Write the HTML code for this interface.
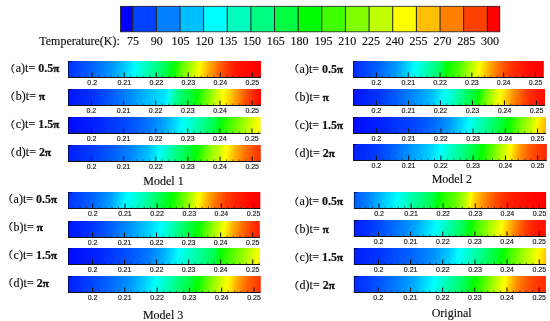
<!DOCTYPE html>
<html><head><meta charset="utf-8"><style>
html,body{margin:0;padding:0;background:#fff;}
body{width:550px;height:321px;overflow:hidden;}
svg{display:block;}
.ser{font-family:"Liberation Serif","Noto Serif CJK SC",serif;fill:#111;stroke:#111;stroke-width:0.15;}
.san{font-family:"Liberation Sans",sans-serif;fill:#1a1a1a;stroke:#1a1a1a;stroke-width:0.15;}
.cjk{font-family:"Noto Serif CJK SC","Liberation Serif",serif;fill:#111;stroke:#111;stroke-width:0.3;}
</style></head><body>
<svg width="550" height="321" viewBox="0 0 550 321">
<defs><linearGradient id="g1" gradientUnits="userSpaceOnUse" x1="48.0" y1="0" x2="281.0" y2="0" gradientTransform="translate(9.70,0) skewX(-8.0)"><stop offset="0.000" stop-color="#0032ff"/><stop offset="0.086" stop-color="#0032ff"/><stop offset="0.095" stop-color="#0036ff"/><stop offset="0.103" stop-color="#003aff"/><stop offset="0.112" stop-color="#003eff"/><stop offset="0.121" stop-color="#0042ff"/><stop offset="0.129" stop-color="#0046ff"/><stop offset="0.138" stop-color="#004aff"/><stop offset="0.147" stop-color="#004eff"/><stop offset="0.155" stop-color="#0052ff"/><stop offset="0.164" stop-color="#0056ff"/><stop offset="0.172" stop-color="#005aff"/><stop offset="0.181" stop-color="#005eff"/><stop offset="0.190" stop-color="#0062ff"/><stop offset="0.198" stop-color="#0067ff"/><stop offset="0.207" stop-color="#006dff"/><stop offset="0.216" stop-color="#0072ff"/><stop offset="0.224" stop-color="#0078ff"/><stop offset="0.233" stop-color="#007eff"/><stop offset="0.241" stop-color="#0083ff"/><stop offset="0.250" stop-color="#0089ff"/><stop offset="0.259" stop-color="#008eff"/><stop offset="0.267" stop-color="#0094ff"/><stop offset="0.276" stop-color="#009bff"/><stop offset="0.284" stop-color="#00a2ff"/><stop offset="0.293" stop-color="#00a9ff"/><stop offset="0.302" stop-color="#00b1ff"/><stop offset="0.310" stop-color="#00b8ff"/><stop offset="0.319" stop-color="#00c0ff"/><stop offset="0.328" stop-color="#00caff"/><stop offset="0.336" stop-color="#00d4ff"/><stop offset="0.345" stop-color="#00deff"/><stop offset="0.353" stop-color="#00e8ff"/><stop offset="0.362" stop-color="#00f2ff"/><stop offset="0.371" stop-color="#00feff"/><stop offset="0.379" stop-color="#00fff4"/><stop offset="0.388" stop-color="#00ffe8"/><stop offset="0.397" stop-color="#00ffdc"/><stop offset="0.405" stop-color="#00ffd0"/><stop offset="0.414" stop-color="#00ffc5"/><stop offset="0.422" stop-color="#00ffba"/><stop offset="0.431" stop-color="#00ffb0"/><stop offset="0.440" stop-color="#00ffa5"/><stop offset="0.448" stop-color="#00ff9a"/><stop offset="0.457" stop-color="#00ff90"/><stop offset="0.466" stop-color="#00ff85"/><stop offset="0.474" stop-color="#00ff7a"/><stop offset="0.483" stop-color="#00ff6e"/><stop offset="0.491" stop-color="#00ff63"/><stop offset="0.500" stop-color="#00ff56"/><stop offset="0.509" stop-color="#00ff44"/><stop offset="0.517" stop-color="#00ff33"/><stop offset="0.526" stop-color="#00ff22"/><stop offset="0.534" stop-color="#00ff0c"/><stop offset="0.543" stop-color="#0cff00"/><stop offset="0.552" stop-color="#24ff00"/><stop offset="0.560" stop-color="#3bff00"/><stop offset="0.569" stop-color="#53ff00"/><stop offset="0.578" stop-color="#69ff00"/><stop offset="0.586" stop-color="#79ff00"/><stop offset="0.595" stop-color="#8aff00"/><stop offset="0.603" stop-color="#9aff00"/><stop offset="0.612" stop-color="#aaff00"/><stop offset="0.621" stop-color="#bbff00"/><stop offset="0.629" stop-color="#ceff00"/><stop offset="0.638" stop-color="#e2ff00"/><stop offset="0.647" stop-color="#f6ff00"/><stop offset="0.655" stop-color="#fff300"/><stop offset="0.664" stop-color="#ffe100"/><stop offset="0.672" stop-color="#ffd000"/><stop offset="0.681" stop-color="#ffbe00"/><stop offset="0.690" stop-color="#ffad00"/><stop offset="0.698" stop-color="#ff9e00"/><stop offset="0.707" stop-color="#ff9000"/><stop offset="0.716" stop-color="#ff8200"/><stop offset="0.724" stop-color="#ff7400"/><stop offset="0.733" stop-color="#ff6600"/><stop offset="0.741" stop-color="#ff5a00"/><stop offset="0.750" stop-color="#ff4f00"/><stop offset="0.759" stop-color="#ff4400"/><stop offset="0.767" stop-color="#ff3900"/><stop offset="0.776" stop-color="#ff2f00"/><stop offset="0.784" stop-color="#ff2900"/><stop offset="0.793" stop-color="#ff2200"/><stop offset="0.802" stop-color="#ff1b00"/><stop offset="0.810" stop-color="#ff1500"/><stop offset="0.819" stop-color="#ff1200"/><stop offset="0.828" stop-color="#ff1000"/><stop offset="0.836" stop-color="#ff0e00"/><stop offset="0.845" stop-color="#ff0b00"/><stop offset="0.853" stop-color="#ff0900"/><stop offset="0.862" stop-color="#ff0700"/><stop offset="0.871" stop-color="#ff0500"/><stop offset="0.879" stop-color="#ff0200"/><stop offset="0.888" stop-color="#ff0000"/><stop offset="1.000" stop-color="#ff0000"/></linearGradient>
<linearGradient id="g2" gradientUnits="userSpaceOnUse" x1="48.0" y1="0" x2="281.0" y2="0" gradientTransform="translate(13.63,0) skewX(-8.0)"><stop offset="0.000" stop-color="#0014ff"/><stop offset="0.086" stop-color="#0014ff"/><stop offset="0.095" stop-color="#0017ff"/><stop offset="0.103" stop-color="#0019ff"/><stop offset="0.112" stop-color="#001bff"/><stop offset="0.121" stop-color="#001eff"/><stop offset="0.129" stop-color="#0020ff"/><stop offset="0.138" stop-color="#0023ff"/><stop offset="0.147" stop-color="#0025ff"/><stop offset="0.155" stop-color="#0027ff"/><stop offset="0.164" stop-color="#002aff"/><stop offset="0.172" stop-color="#002cff"/><stop offset="0.181" stop-color="#002fff"/><stop offset="0.190" stop-color="#0031ff"/><stop offset="0.198" stop-color="#0035ff"/><stop offset="0.207" stop-color="#0039ff"/><stop offset="0.216" stop-color="#003eff"/><stop offset="0.224" stop-color="#0042ff"/><stop offset="0.233" stop-color="#0047ff"/><stop offset="0.241" stop-color="#004bff"/><stop offset="0.250" stop-color="#004fff"/><stop offset="0.259" stop-color="#0054ff"/><stop offset="0.267" stop-color="#0058ff"/><stop offset="0.276" stop-color="#005dff"/><stop offset="0.284" stop-color="#0063ff"/><stop offset="0.293" stop-color="#0068ff"/><stop offset="0.302" stop-color="#006dff"/><stop offset="0.310" stop-color="#0073ff"/><stop offset="0.319" stop-color="#0078ff"/><stop offset="0.328" stop-color="#007dff"/><stop offset="0.336" stop-color="#0082ff"/><stop offset="0.345" stop-color="#0088ff"/><stop offset="0.353" stop-color="#008dff"/><stop offset="0.362" stop-color="#0093ff"/><stop offset="0.371" stop-color="#0098ff"/><stop offset="0.379" stop-color="#009eff"/><stop offset="0.388" stop-color="#00a3ff"/><stop offset="0.397" stop-color="#00a9ff"/><stop offset="0.405" stop-color="#00aeff"/><stop offset="0.414" stop-color="#00b4ff"/><stop offset="0.422" stop-color="#00baff"/><stop offset="0.431" stop-color="#00bfff"/><stop offset="0.440" stop-color="#00c3ff"/><stop offset="0.448" stop-color="#00c8ff"/><stop offset="0.457" stop-color="#00ccff"/><stop offset="0.466" stop-color="#00d1ff"/><stop offset="0.474" stop-color="#00d5ff"/><stop offset="0.483" stop-color="#00daff"/><stop offset="0.491" stop-color="#00deff"/><stop offset="0.500" stop-color="#00e3ff"/><stop offset="0.509" stop-color="#00edff"/><stop offset="0.517" stop-color="#00fff4"/><stop offset="0.526" stop-color="#00ffd7"/><stop offset="0.534" stop-color="#00ffbb"/><stop offset="0.543" stop-color="#00ffa6"/><stop offset="0.552" stop-color="#00ff94"/><stop offset="0.560" stop-color="#00ff83"/><stop offset="0.569" stop-color="#00ff71"/><stop offset="0.578" stop-color="#00ff61"/><stop offset="0.586" stop-color="#00ff56"/><stop offset="0.595" stop-color="#00ff4b"/><stop offset="0.603" stop-color="#00ff40"/><stop offset="0.612" stop-color="#00ff35"/><stop offset="0.621" stop-color="#00ff2a"/><stop offset="0.629" stop-color="#00ff16"/><stop offset="0.638" stop-color="#00ff00"/><stop offset="0.647" stop-color="#16ff00"/><stop offset="0.655" stop-color="#2cff00"/><stop offset="0.664" stop-color="#41ff00"/><stop offset="0.672" stop-color="#57ff00"/><stop offset="0.681" stop-color="#6bff00"/><stop offset="0.690" stop-color="#7fff00"/><stop offset="0.698" stop-color="#93ff00"/><stop offset="0.707" stop-color="#a7ff00"/><stop offset="0.716" stop-color="#bbff00"/><stop offset="0.724" stop-color="#cbff00"/><stop offset="0.733" stop-color="#dbff00"/><stop offset="0.741" stop-color="#eaff00"/><stop offset="0.750" stop-color="#faff00"/><stop offset="0.759" stop-color="#fff500"/><stop offset="0.767" stop-color="#ffe500"/><stop offset="0.776" stop-color="#ffd600"/><stop offset="0.784" stop-color="#ffc600"/><stop offset="0.793" stop-color="#ffb700"/><stop offset="0.802" stop-color="#ffa700"/><stop offset="0.810" stop-color="#ff9700"/><stop offset="0.819" stop-color="#ff8800"/><stop offset="0.828" stop-color="#ff7800"/><stop offset="0.836" stop-color="#ff6900"/><stop offset="0.845" stop-color="#ff5900"/><stop offset="0.853" stop-color="#ff4b00"/><stop offset="0.862" stop-color="#ff4000"/><stop offset="0.871" stop-color="#ff3500"/><stop offset="0.879" stop-color="#ff2a00"/><stop offset="0.888" stop-color="#ff1f00"/><stop offset="0.897" stop-color="#ff1600"/><stop offset="0.905" stop-color="#ff0d00"/><stop offset="0.914" stop-color="#ff0500"/><stop offset="0.922" stop-color="#ff0000"/><stop offset="1.000" stop-color="#ff0000"/></linearGradient>
<linearGradient id="g3" gradientUnits="userSpaceOnUse" x1="48.0" y1="0" x2="280.6" y2="0" gradientTransform="translate(17.57,0) skewX(-8.0)"><stop offset="0.000" stop-color="#000aff"/><stop offset="0.086" stop-color="#000aff"/><stop offset="0.095" stop-color="#000cff"/><stop offset="0.103" stop-color="#000dff"/><stop offset="0.112" stop-color="#000fff"/><stop offset="0.121" stop-color="#0010ff"/><stop offset="0.129" stop-color="#0012ff"/><stop offset="0.138" stop-color="#0014ff"/><stop offset="0.147" stop-color="#0015ff"/><stop offset="0.155" stop-color="#0017ff"/><stop offset="0.164" stop-color="#0018ff"/><stop offset="0.172" stop-color="#001aff"/><stop offset="0.181" stop-color="#001cff"/><stop offset="0.190" stop-color="#001dff"/><stop offset="0.198" stop-color="#0020ff"/><stop offset="0.207" stop-color="#0022ff"/><stop offset="0.216" stop-color="#0025ff"/><stop offset="0.224" stop-color="#0028ff"/><stop offset="0.233" stop-color="#002bff"/><stop offset="0.241" stop-color="#002dff"/><stop offset="0.250" stop-color="#0030ff"/><stop offset="0.259" stop-color="#0033ff"/><stop offset="0.267" stop-color="#0036ff"/><stop offset="0.276" stop-color="#0039ff"/><stop offset="0.284" stop-color="#003bff"/><stop offset="0.293" stop-color="#003eff"/><stop offset="0.302" stop-color="#0040ff"/><stop offset="0.310" stop-color="#0043ff"/><stop offset="0.319" stop-color="#0046ff"/><stop offset="0.328" stop-color="#0048ff"/><stop offset="0.336" stop-color="#004bff"/><stop offset="0.345" stop-color="#004eff"/><stop offset="0.353" stop-color="#0050ff"/><stop offset="0.362" stop-color="#0054ff"/><stop offset="0.371" stop-color="#0058ff"/><stop offset="0.379" stop-color="#005cff"/><stop offset="0.388" stop-color="#0060ff"/><stop offset="0.397" stop-color="#0064ff"/><stop offset="0.405" stop-color="#0068ff"/><stop offset="0.414" stop-color="#006cff"/><stop offset="0.422" stop-color="#0070ff"/><stop offset="0.431" stop-color="#0074ff"/><stop offset="0.440" stop-color="#007aff"/><stop offset="0.448" stop-color="#0080ff"/><stop offset="0.457" stop-color="#0087ff"/><stop offset="0.466" stop-color="#008dff"/><stop offset="0.474" stop-color="#0093ff"/><stop offset="0.483" stop-color="#0099ff"/><stop offset="0.491" stop-color="#00a0ff"/><stop offset="0.500" stop-color="#00a6ff"/><stop offset="0.509" stop-color="#00afff"/><stop offset="0.517" stop-color="#00b9ff"/><stop offset="0.526" stop-color="#00c2ff"/><stop offset="0.534" stop-color="#00cbff"/><stop offset="0.543" stop-color="#00d4ff"/><stop offset="0.552" stop-color="#00dfff"/><stop offset="0.560" stop-color="#00eaff"/><stop offset="0.569" stop-color="#00f6ff"/><stop offset="0.578" stop-color="#00fffd"/><stop offset="0.586" stop-color="#00fff2"/><stop offset="0.595" stop-color="#00ffe8"/><stop offset="0.603" stop-color="#00ffdd"/><stop offset="0.612" stop-color="#00ffd2"/><stop offset="0.621" stop-color="#00ffc8"/><stop offset="0.629" stop-color="#00ffbd"/><stop offset="0.638" stop-color="#00ffb3"/><stop offset="0.647" stop-color="#00ffa8"/><stop offset="0.655" stop-color="#00ff9b"/><stop offset="0.664" stop-color="#00ff8f"/><stop offset="0.672" stop-color="#00ff83"/><stop offset="0.681" stop-color="#00ff77"/><stop offset="0.690" stop-color="#00ff6a"/><stop offset="0.698" stop-color="#00ff5e"/><stop offset="0.707" stop-color="#00ff52"/><stop offset="0.716" stop-color="#00ff46"/><stop offset="0.724" stop-color="#00ff37"/><stop offset="0.733" stop-color="#00ff21"/><stop offset="0.741" stop-color="#00ff0a"/><stop offset="0.750" stop-color="#0dff00"/><stop offset="0.759" stop-color="#21ff00"/><stop offset="0.767" stop-color="#2eff00"/><stop offset="0.776" stop-color="#3aff00"/><stop offset="0.784" stop-color="#47ff00"/><stop offset="0.793" stop-color="#54ff00"/><stop offset="0.802" stop-color="#61ff00"/><stop offset="0.810" stop-color="#6eff00"/><stop offset="0.819" stop-color="#7cff00"/><stop offset="0.828" stop-color="#89ff00"/><stop offset="0.836" stop-color="#97ff00"/><stop offset="0.845" stop-color="#a5ff00"/><stop offset="0.853" stop-color="#b2ff00"/><stop offset="0.862" stop-color="#c0ff00"/><stop offset="0.871" stop-color="#cdff00"/><stop offset="0.879" stop-color="#dbff00"/><stop offset="0.888" stop-color="#e8ff00"/><stop offset="0.897" stop-color="#f5ff00"/><stop offset="0.905" stop-color="#fffc00"/><stop offset="0.914" stop-color="#ffef00"/><stop offset="0.922" stop-color="#ffe600"/><stop offset="1.000" stop-color="#ffe600"/></linearGradient>
<linearGradient id="g4" gradientUnits="userSpaceOnUse" x1="48.0" y1="0" x2="280.8" y2="0" gradientTransform="translate(21.50,0) skewX(-8.0)"><stop offset="0.000" stop-color="#001eff"/><stop offset="0.086" stop-color="#001eff"/><stop offset="0.095" stop-color="#0020ff"/><stop offset="0.103" stop-color="#0023ff"/><stop offset="0.112" stop-color="#0025ff"/><stop offset="0.121" stop-color="#0028ff"/><stop offset="0.129" stop-color="#002aff"/><stop offset="0.138" stop-color="#002dff"/><stop offset="0.147" stop-color="#002fff"/><stop offset="0.155" stop-color="#0031ff"/><stop offset="0.164" stop-color="#0034ff"/><stop offset="0.172" stop-color="#0036ff"/><stop offset="0.181" stop-color="#0039ff"/><stop offset="0.190" stop-color="#003bff"/><stop offset="0.198" stop-color="#003eff"/><stop offset="0.207" stop-color="#0041ff"/><stop offset="0.216" stop-color="#0045ff"/><stop offset="0.224" stop-color="#0048ff"/><stop offset="0.233" stop-color="#004bff"/><stop offset="0.241" stop-color="#004fff"/><stop offset="0.250" stop-color="#0052ff"/><stop offset="0.259" stop-color="#0055ff"/><stop offset="0.267" stop-color="#0059ff"/><stop offset="0.276" stop-color="#005dff"/><stop offset="0.284" stop-color="#0061ff"/><stop offset="0.293" stop-color="#0065ff"/><stop offset="0.302" stop-color="#0069ff"/><stop offset="0.310" stop-color="#006dff"/><stop offset="0.319" stop-color="#0072ff"/><stop offset="0.328" stop-color="#0076ff"/><stop offset="0.336" stop-color="#007aff"/><stop offset="0.345" stop-color="#007eff"/><stop offset="0.353" stop-color="#0083ff"/><stop offset="0.362" stop-color="#008aff"/><stop offset="0.371" stop-color="#0090ff"/><stop offset="0.379" stop-color="#0097ff"/><stop offset="0.388" stop-color="#009eff"/><stop offset="0.397" stop-color="#00a4ff"/><stop offset="0.405" stop-color="#00abff"/><stop offset="0.414" stop-color="#00b2ff"/><stop offset="0.422" stop-color="#00b8ff"/><stop offset="0.431" stop-color="#00c0ff"/><stop offset="0.440" stop-color="#00cbff"/><stop offset="0.448" stop-color="#00d6ff"/><stop offset="0.457" stop-color="#00e1ff"/><stop offset="0.466" stop-color="#00edff"/><stop offset="0.474" stop-color="#00fbff"/><stop offset="0.483" stop-color="#00fff4"/><stop offset="0.491" stop-color="#00ffe4"/><stop offset="0.500" stop-color="#00ffd4"/><stop offset="0.509" stop-color="#00ffc5"/><stop offset="0.517" stop-color="#00ffb8"/><stop offset="0.526" stop-color="#00ffab"/><stop offset="0.534" stop-color="#00ff9d"/><stop offset="0.543" stop-color="#00ff90"/><stop offset="0.552" stop-color="#00ff83"/><stop offset="0.560" stop-color="#00ff77"/><stop offset="0.569" stop-color="#00ff6b"/><stop offset="0.578" stop-color="#00ff5f"/><stop offset="0.586" stop-color="#00ff53"/><stop offset="0.595" stop-color="#00ff47"/><stop offset="0.603" stop-color="#00ff3b"/><stop offset="0.612" stop-color="#00ff2e"/><stop offset="0.621" stop-color="#00ff1c"/><stop offset="0.629" stop-color="#00ff09"/><stop offset="0.638" stop-color="#09ff00"/><stop offset="0.647" stop-color="#1bff00"/><stop offset="0.655" stop-color="#2dff00"/><stop offset="0.664" stop-color="#41ff00"/><stop offset="0.672" stop-color="#55ff00"/><stop offset="0.681" stop-color="#69ff00"/><stop offset="0.690" stop-color="#7eff00"/><stop offset="0.698" stop-color="#90ff00"/><stop offset="0.707" stop-color="#9dff00"/><stop offset="0.716" stop-color="#aaff00"/><stop offset="0.724" stop-color="#b8ff00"/><stop offset="0.733" stop-color="#c5ff00"/><stop offset="0.741" stop-color="#d4ff00"/><stop offset="0.750" stop-color="#e4ff00"/><stop offset="0.759" stop-color="#f4ff00"/><stop offset="0.767" stop-color="#fffb00"/><stop offset="0.776" stop-color="#ffeb00"/><stop offset="0.784" stop-color="#ffd900"/><stop offset="0.793" stop-color="#ffc800"/><stop offset="0.802" stop-color="#ffb700"/><stop offset="0.810" stop-color="#ffaa00"/><stop offset="0.819" stop-color="#ff9d00"/><stop offset="0.828" stop-color="#ff9000"/><stop offset="0.836" stop-color="#ff8300"/><stop offset="0.845" stop-color="#ff7600"/><stop offset="0.853" stop-color="#ff6b00"/><stop offset="0.862" stop-color="#ff6200"/><stop offset="0.871" stop-color="#ff5900"/><stop offset="0.879" stop-color="#ff5000"/><stop offset="0.888" stop-color="#ff4700"/><stop offset="0.897" stop-color="#ff4100"/><stop offset="0.905" stop-color="#ff3b00"/><stop offset="0.914" stop-color="#ff3600"/><stop offset="0.922" stop-color="#ff3200"/><stop offset="1.000" stop-color="#ff3200"/></linearGradient>
<linearGradient id="g5" gradientUnits="userSpaceOnUse" x1="333.0" y1="0" x2="563.8" y2="0" gradientTransform="translate(9.70,0) skewX(-8.0)"><stop offset="0.000" stop-color="#0028ff"/><stop offset="0.087" stop-color="#0028ff"/><stop offset="0.096" stop-color="#002dff"/><stop offset="0.104" stop-color="#0031ff"/><stop offset="0.113" stop-color="#0036ff"/><stop offset="0.122" stop-color="#003bff"/><stop offset="0.130" stop-color="#003fff"/><stop offset="0.139" stop-color="#0044ff"/><stop offset="0.148" stop-color="#0048ff"/><stop offset="0.157" stop-color="#004dff"/><stop offset="0.165" stop-color="#0052ff"/><stop offset="0.174" stop-color="#0056ff"/><stop offset="0.183" stop-color="#005bff"/><stop offset="0.191" stop-color="#005fff"/><stop offset="0.200" stop-color="#0066ff"/><stop offset="0.209" stop-color="#006cff"/><stop offset="0.217" stop-color="#0072ff"/><stop offset="0.226" stop-color="#0078ff"/><stop offset="0.235" stop-color="#007eff"/><stop offset="0.243" stop-color="#0084ff"/><stop offset="0.252" stop-color="#008aff"/><stop offset="0.261" stop-color="#0091ff"/><stop offset="0.270" stop-color="#0097ff"/><stop offset="0.278" stop-color="#00a1ff"/><stop offset="0.287" stop-color="#00abff"/><stop offset="0.296" stop-color="#00b5ff"/><stop offset="0.304" stop-color="#00bfff"/><stop offset="0.313" stop-color="#00c9ff"/><stop offset="0.322" stop-color="#00d5ff"/><stop offset="0.330" stop-color="#00e0ff"/><stop offset="0.339" stop-color="#00ecff"/><stop offset="0.348" stop-color="#00f8ff"/><stop offset="0.357" stop-color="#00fff9"/><stop offset="0.365" stop-color="#00ffed"/><stop offset="0.374" stop-color="#00ffe0"/><stop offset="0.383" stop-color="#00ffd4"/><stop offset="0.391" stop-color="#00ffc8"/><stop offset="0.400" stop-color="#00ffbc"/><stop offset="0.409" stop-color="#00ffb0"/><stop offset="0.417" stop-color="#00ffa4"/><stop offset="0.426" stop-color="#00ff97"/><stop offset="0.435" stop-color="#00ff8a"/><stop offset="0.443" stop-color="#00ff7d"/><stop offset="0.452" stop-color="#00ff70"/><stop offset="0.461" stop-color="#00ff63"/><stop offset="0.470" stop-color="#00ff4b"/><stop offset="0.478" stop-color="#00ff2e"/><stop offset="0.487" stop-color="#00ff12"/><stop offset="0.496" stop-color="#0bff00"/><stop offset="0.504" stop-color="#1aff00"/><stop offset="0.513" stop-color="#23ff00"/><stop offset="0.522" stop-color="#2cff00"/><stop offset="0.530" stop-color="#35ff00"/><stop offset="0.539" stop-color="#40ff00"/><stop offset="0.548" stop-color="#52ff00"/><stop offset="0.557" stop-color="#64ff00"/><stop offset="0.565" stop-color="#75ff00"/><stop offset="0.574" stop-color="#87ff00"/><stop offset="0.583" stop-color="#98ff00"/><stop offset="0.591" stop-color="#a8ff00"/><stop offset="0.600" stop-color="#b9ff00"/><stop offset="0.609" stop-color="#c9ff00"/><stop offset="0.617" stop-color="#daff00"/><stop offset="0.626" stop-color="#ebff00"/><stop offset="0.635" stop-color="#ffff00"/><stop offset="0.643" stop-color="#ffec00"/><stop offset="0.652" stop-color="#ffda00"/><stop offset="0.661" stop-color="#ffc900"/><stop offset="0.670" stop-color="#ffb800"/><stop offset="0.678" stop-color="#ffaa00"/><stop offset="0.687" stop-color="#ff9c00"/><stop offset="0.696" stop-color="#ff8f00"/><stop offset="0.704" stop-color="#ff8200"/><stop offset="0.713" stop-color="#ff7500"/><stop offset="0.722" stop-color="#ff6a00"/><stop offset="0.730" stop-color="#ff5f00"/><stop offset="0.739" stop-color="#ff5300"/><stop offset="0.748" stop-color="#ff4800"/><stop offset="0.757" stop-color="#ff4100"/><stop offset="0.765" stop-color="#ff3a00"/><stop offset="0.774" stop-color="#ff3300"/><stop offset="0.783" stop-color="#ff2d00"/><stop offset="0.791" stop-color="#ff2700"/><stop offset="0.800" stop-color="#ff2300"/><stop offset="0.809" stop-color="#ff1f00"/><stop offset="0.817" stop-color="#ff1b00"/><stop offset="0.826" stop-color="#ff1700"/><stop offset="0.835" stop-color="#ff1300"/><stop offset="0.843" stop-color="#ff0f00"/><stop offset="0.852" stop-color="#ff0b00"/><stop offset="0.861" stop-color="#ff0900"/><stop offset="0.870" stop-color="#ff0800"/><stop offset="0.878" stop-color="#ff0600"/><stop offset="0.887" stop-color="#ff0500"/><stop offset="0.896" stop-color="#ff0400"/><stop offset="0.904" stop-color="#ff0300"/><stop offset="0.913" stop-color="#ff0100"/><stop offset="0.922" stop-color="#ff0000"/><stop offset="1.000" stop-color="#ff0000"/></linearGradient>
<linearGradient id="g6" gradientUnits="userSpaceOnUse" x1="333.0" y1="0" x2="565.0" y2="0" gradientTransform="translate(13.63,0) skewX(-8.0)"><stop offset="0.000" stop-color="#0014ff"/><stop offset="0.086" stop-color="#0014ff"/><stop offset="0.095" stop-color="#0016ff"/><stop offset="0.103" stop-color="#0019ff"/><stop offset="0.112" stop-color="#001cff"/><stop offset="0.121" stop-color="#001eff"/><stop offset="0.129" stop-color="#0020ff"/><stop offset="0.138" stop-color="#0023ff"/><stop offset="0.147" stop-color="#0026ff"/><stop offset="0.155" stop-color="#0028ff"/><stop offset="0.164" stop-color="#002aff"/><stop offset="0.172" stop-color="#002dff"/><stop offset="0.181" stop-color="#0030ff"/><stop offset="0.190" stop-color="#0032ff"/><stop offset="0.198" stop-color="#0036ff"/><stop offset="0.207" stop-color="#003bff"/><stop offset="0.216" stop-color="#003fff"/><stop offset="0.224" stop-color="#0044ff"/><stop offset="0.233" stop-color="#0048ff"/><stop offset="0.241" stop-color="#004dff"/><stop offset="0.250" stop-color="#0051ff"/><stop offset="0.259" stop-color="#0056ff"/><stop offset="0.267" stop-color="#005aff"/><stop offset="0.276" stop-color="#005fff"/><stop offset="0.284" stop-color="#0065ff"/><stop offset="0.293" stop-color="#006aff"/><stop offset="0.302" stop-color="#006fff"/><stop offset="0.310" stop-color="#0074ff"/><stop offset="0.319" stop-color="#007aff"/><stop offset="0.328" stop-color="#007fff"/><stop offset="0.336" stop-color="#0084ff"/><stop offset="0.345" stop-color="#0089ff"/><stop offset="0.353" stop-color="#008fff"/><stop offset="0.362" stop-color="#0094ff"/><stop offset="0.371" stop-color="#009aff"/><stop offset="0.379" stop-color="#009fff"/><stop offset="0.388" stop-color="#00a5ff"/><stop offset="0.397" stop-color="#00abff"/><stop offset="0.405" stop-color="#00b0ff"/><stop offset="0.414" stop-color="#00b6ff"/><stop offset="0.422" stop-color="#00bbff"/><stop offset="0.431" stop-color="#00c4ff"/><stop offset="0.440" stop-color="#00cfff"/><stop offset="0.448" stop-color="#00daff"/><stop offset="0.457" stop-color="#00e5ff"/><stop offset="0.466" stop-color="#00f1ff"/><stop offset="0.474" stop-color="#00fcff"/><stop offset="0.483" stop-color="#00fff7"/><stop offset="0.491" stop-color="#00ffec"/><stop offset="0.500" stop-color="#00ffdf"/><stop offset="0.509" stop-color="#00ffd2"/><stop offset="0.517" stop-color="#00ffc5"/><stop offset="0.526" stop-color="#00ffb7"/><stop offset="0.534" stop-color="#00ffaa"/><stop offset="0.543" stop-color="#00ff9a"/><stop offset="0.552" stop-color="#00ff8b"/><stop offset="0.560" stop-color="#00ff7b"/><stop offset="0.569" stop-color="#00ff6c"/><stop offset="0.578" stop-color="#00ff5d"/><stop offset="0.586" stop-color="#00ff50"/><stop offset="0.595" stop-color="#00ff43"/><stop offset="0.603" stop-color="#00ff35"/><stop offset="0.612" stop-color="#00ff28"/><stop offset="0.621" stop-color="#00ff0b"/><stop offset="0.629" stop-color="#12ff00"/><stop offset="0.638" stop-color="#2fff00"/><stop offset="0.647" stop-color="#4cff00"/><stop offset="0.655" stop-color="#65ff00"/><stop offset="0.664" stop-color="#7bff00"/><stop offset="0.672" stop-color="#92ff00"/><stop offset="0.681" stop-color="#a8ff00"/><stop offset="0.690" stop-color="#beff00"/><stop offset="0.698" stop-color="#d0ff00"/><stop offset="0.707" stop-color="#e2ff00"/><stop offset="0.716" stop-color="#f3ff00"/><stop offset="0.724" stop-color="#fff900"/><stop offset="0.733" stop-color="#ffe800"/><stop offset="0.741" stop-color="#ffd700"/><stop offset="0.750" stop-color="#ffc600"/><stop offset="0.759" stop-color="#ffb500"/><stop offset="0.767" stop-color="#ffa400"/><stop offset="0.776" stop-color="#ff9300"/><stop offset="0.784" stop-color="#ff8200"/><stop offset="0.793" stop-color="#ff7500"/><stop offset="0.802" stop-color="#ff6900"/><stop offset="0.810" stop-color="#ff5c00"/><stop offset="0.819" stop-color="#ff4f00"/><stop offset="0.828" stop-color="#ff4200"/><stop offset="0.836" stop-color="#ff3900"/><stop offset="0.845" stop-color="#ff3200"/><stop offset="0.853" stop-color="#ff2b00"/><stop offset="0.862" stop-color="#ff2500"/><stop offset="0.871" stop-color="#ff1e00"/><stop offset="0.879" stop-color="#ff1a00"/><stop offset="0.888" stop-color="#ff1700"/><stop offset="0.897" stop-color="#ff1300"/><stop offset="0.905" stop-color="#ff0f00"/><stop offset="0.914" stop-color="#ff0c00"/><stop offset="0.922" stop-color="#ff0a00"/><stop offset="1.000" stop-color="#ff0a00"/></linearGradient>
<linearGradient id="g7" gradientUnits="userSpaceOnUse" x1="333.0" y1="0" x2="566.0" y2="0" gradientTransform="translate(17.57,0) skewX(-8.0)"><stop offset="0.000" stop-color="#000aff"/><stop offset="0.086" stop-color="#000aff"/><stop offset="0.095" stop-color="#000cff"/><stop offset="0.103" stop-color="#000dff"/><stop offset="0.112" stop-color="#000fff"/><stop offset="0.121" stop-color="#0011ff"/><stop offset="0.129" stop-color="#0012ff"/><stop offset="0.138" stop-color="#0014ff"/><stop offset="0.147" stop-color="#0016ff"/><stop offset="0.155" stop-color="#0017ff"/><stop offset="0.164" stop-color="#0019ff"/><stop offset="0.172" stop-color="#001bff"/><stop offset="0.181" stop-color="#001cff"/><stop offset="0.190" stop-color="#001eff"/><stop offset="0.198" stop-color="#0020ff"/><stop offset="0.207" stop-color="#0023ff"/><stop offset="0.216" stop-color="#0025ff"/><stop offset="0.224" stop-color="#0027ff"/><stop offset="0.233" stop-color="#0029ff"/><stop offset="0.241" stop-color="#002cff"/><stop offset="0.250" stop-color="#002eff"/><stop offset="0.259" stop-color="#0030ff"/><stop offset="0.267" stop-color="#0032ff"/><stop offset="0.276" stop-color="#0034ff"/><stop offset="0.284" stop-color="#0037ff"/><stop offset="0.293" stop-color="#0039ff"/><stop offset="0.302" stop-color="#003bff"/><stop offset="0.310" stop-color="#003dff"/><stop offset="0.319" stop-color="#003fff"/><stop offset="0.328" stop-color="#0041ff"/><stop offset="0.336" stop-color="#0043ff"/><stop offset="0.345" stop-color="#0045ff"/><stop offset="0.353" stop-color="#0048ff"/><stop offset="0.362" stop-color="#004cff"/><stop offset="0.371" stop-color="#004fff"/><stop offset="0.379" stop-color="#0052ff"/><stop offset="0.388" stop-color="#0056ff"/><stop offset="0.397" stop-color="#0059ff"/><stop offset="0.405" stop-color="#005cff"/><stop offset="0.414" stop-color="#0060ff"/><stop offset="0.422" stop-color="#0063ff"/><stop offset="0.431" stop-color="#0068ff"/><stop offset="0.440" stop-color="#006fff"/><stop offset="0.448" stop-color="#0075ff"/><stop offset="0.457" stop-color="#007bff"/><stop offset="0.466" stop-color="#0082ff"/><stop offset="0.474" stop-color="#0088ff"/><stop offset="0.483" stop-color="#008eff"/><stop offset="0.491" stop-color="#0094ff"/><stop offset="0.500" stop-color="#009dff"/><stop offset="0.509" stop-color="#00a6ff"/><stop offset="0.517" stop-color="#00afff"/><stop offset="0.526" stop-color="#00b7ff"/><stop offset="0.534" stop-color="#00c1ff"/><stop offset="0.543" stop-color="#00cbff"/><stop offset="0.552" stop-color="#00d5ff"/><stop offset="0.560" stop-color="#00dfff"/><stop offset="0.569" stop-color="#00e9ff"/><stop offset="0.578" stop-color="#00f6ff"/><stop offset="0.586" stop-color="#00fff9"/><stop offset="0.595" stop-color="#00ffeb"/><stop offset="0.603" stop-color="#00ffdc"/><stop offset="0.612" stop-color="#00ffcf"/><stop offset="0.621" stop-color="#00ffc3"/><stop offset="0.629" stop-color="#00ffb8"/><stop offset="0.638" stop-color="#00ffad"/><stop offset="0.647" stop-color="#00ffa2"/><stop offset="0.655" stop-color="#00ff96"/><stop offset="0.664" stop-color="#00ff89"/><stop offset="0.672" stop-color="#00ff7d"/><stop offset="0.681" stop-color="#00ff71"/><stop offset="0.690" stop-color="#00ff64"/><stop offset="0.698" stop-color="#00ff58"/><stop offset="0.707" stop-color="#00ff4b"/><stop offset="0.716" stop-color="#00ff3e"/><stop offset="0.724" stop-color="#00ff31"/><stop offset="0.733" stop-color="#00ff23"/><stop offset="0.741" stop-color="#00ff16"/><stop offset="0.750" stop-color="#00ff04"/><stop offset="0.759" stop-color="#0dff00"/><stop offset="0.767" stop-color="#1fff00"/><stop offset="0.776" stop-color="#31ff00"/><stop offset="0.784" stop-color="#43ff00"/><stop offset="0.793" stop-color="#55ff00"/><stop offset="0.802" stop-color="#67ff00"/><stop offset="0.810" stop-color="#79ff00"/><stop offset="0.819" stop-color="#8aff00"/><stop offset="0.828" stop-color="#9aff00"/><stop offset="0.836" stop-color="#aaff00"/><stop offset="0.845" stop-color="#b9ff00"/><stop offset="0.853" stop-color="#c9ff00"/><stop offset="0.862" stop-color="#dcff00"/><stop offset="0.871" stop-color="#f3ff00"/><stop offset="0.879" stop-color="#fff400"/><stop offset="0.888" stop-color="#ffdd00"/><stop offset="0.897" stop-color="#ffd100"/><stop offset="0.905" stop-color="#ffc600"/><stop offset="0.914" stop-color="#ffba00"/><stop offset="0.922" stop-color="#ffb400"/><stop offset="1.000" stop-color="#ffb400"/></linearGradient>
<linearGradient id="g8" gradientUnits="userSpaceOnUse" x1="333.0" y1="0" x2="566.8" y2="0" gradientTransform="translate(21.36,0) skewX(-8.0)"><stop offset="0.000" stop-color="#001eff"/><stop offset="0.086" stop-color="#001eff"/><stop offset="0.095" stop-color="#0021ff"/><stop offset="0.103" stop-color="#0023ff"/><stop offset="0.112" stop-color="#0026ff"/><stop offset="0.121" stop-color="#0028ff"/><stop offset="0.129" stop-color="#002bff"/><stop offset="0.138" stop-color="#002dff"/><stop offset="0.147" stop-color="#0030ff"/><stop offset="0.155" stop-color="#0032ff"/><stop offset="0.164" stop-color="#0035ff"/><stop offset="0.172" stop-color="#0037ff"/><stop offset="0.181" stop-color="#003aff"/><stop offset="0.190" stop-color="#003dff"/><stop offset="0.198" stop-color="#0042ff"/><stop offset="0.207" stop-color="#0047ff"/><stop offset="0.216" stop-color="#004cff"/><stop offset="0.224" stop-color="#0051ff"/><stop offset="0.233" stop-color="#0056ff"/><stop offset="0.241" stop-color="#005bff"/><stop offset="0.250" stop-color="#0060ff"/><stop offset="0.259" stop-color="#0065ff"/><stop offset="0.267" stop-color="#006aff"/><stop offset="0.276" stop-color="#0070ff"/><stop offset="0.284" stop-color="#0076ff"/><stop offset="0.293" stop-color="#007cff"/><stop offset="0.302" stop-color="#0082ff"/><stop offset="0.310" stop-color="#0088ff"/><stop offset="0.319" stop-color="#008dff"/><stop offset="0.328" stop-color="#0093ff"/><stop offset="0.336" stop-color="#0099ff"/><stop offset="0.345" stop-color="#009fff"/><stop offset="0.353" stop-color="#00a5ff"/><stop offset="0.362" stop-color="#00abff"/><stop offset="0.371" stop-color="#00b1ff"/><stop offset="0.379" stop-color="#00b7ff"/><stop offset="0.388" stop-color="#00beff"/><stop offset="0.397" stop-color="#00c4ff"/><stop offset="0.405" stop-color="#00caff"/><stop offset="0.414" stop-color="#00d0ff"/><stop offset="0.422" stop-color="#00d6ff"/><stop offset="0.431" stop-color="#00e0ff"/><stop offset="0.440" stop-color="#00eaff"/><stop offset="0.448" stop-color="#00f4ff"/><stop offset="0.457" stop-color="#00ffff"/><stop offset="0.466" stop-color="#00fff4"/><stop offset="0.474" stop-color="#00ffe9"/><stop offset="0.483" stop-color="#00ffde"/><stop offset="0.491" stop-color="#00ffd3"/><stop offset="0.500" stop-color="#00ffc7"/><stop offset="0.509" stop-color="#00ffbc"/><stop offset="0.517" stop-color="#00ffb1"/><stop offset="0.526" stop-color="#00ffa6"/><stop offset="0.534" stop-color="#00ff9b"/><stop offset="0.543" stop-color="#00ff8f"/><stop offset="0.552" stop-color="#00ff84"/><stop offset="0.560" stop-color="#00ff79"/><stop offset="0.569" stop-color="#00ff6e"/><stop offset="0.578" stop-color="#00ff63"/><stop offset="0.586" stop-color="#00ff57"/><stop offset="0.595" stop-color="#00ff4c"/><stop offset="0.603" stop-color="#00ff41"/><stop offset="0.612" stop-color="#00ff32"/><stop offset="0.621" stop-color="#00ff20"/><stop offset="0.629" stop-color="#00ff0e"/><stop offset="0.638" stop-color="#04ff00"/><stop offset="0.647" stop-color="#15ff00"/><stop offset="0.655" stop-color="#27ff00"/><stop offset="0.664" stop-color="#39ff00"/><stop offset="0.672" stop-color="#4bff00"/><stop offset="0.681" stop-color="#5dff00"/><stop offset="0.690" stop-color="#70ff00"/><stop offset="0.698" stop-color="#85ff00"/><stop offset="0.707" stop-color="#99ff00"/><stop offset="0.716" stop-color="#adff00"/><stop offset="0.724" stop-color="#c0ff00"/><stop offset="0.733" stop-color="#d0ff00"/><stop offset="0.741" stop-color="#e0ff00"/><stop offset="0.750" stop-color="#f0ff00"/><stop offset="0.759" stop-color="#fffa00"/><stop offset="0.767" stop-color="#ffe300"/><stop offset="0.776" stop-color="#ffce00"/><stop offset="0.784" stop-color="#ffba00"/><stop offset="0.793" stop-color="#ffa600"/><stop offset="0.802" stop-color="#ff9500"/><stop offset="0.810" stop-color="#ff8600"/><stop offset="0.819" stop-color="#ff7700"/><stop offset="0.828" stop-color="#ff6800"/><stop offset="0.836" stop-color="#ff5e00"/><stop offset="0.845" stop-color="#ff5600"/><stop offset="0.853" stop-color="#ff4e00"/><stop offset="0.862" stop-color="#ff4600"/><stop offset="0.871" stop-color="#ff3e00"/><stop offset="0.879" stop-color="#ff3900"/><stop offset="0.888" stop-color="#ff3500"/><stop offset="0.897" stop-color="#ff3100"/><stop offset="0.905" stop-color="#ff2d00"/><stop offset="0.914" stop-color="#ff2900"/><stop offset="0.922" stop-color="#ff2800"/><stop offset="1.000" stop-color="#ff2800"/></linearGradient>
<linearGradient id="g9" gradientUnits="userSpaceOnUse" x1="48.0" y1="0" x2="280.3" y2="0" gradientTransform="translate(28.11,0) skewX(-8.0)"><stop offset="0.000" stop-color="#0032ff"/><stop offset="0.086" stop-color="#0032ff"/><stop offset="0.095" stop-color="#0036ff"/><stop offset="0.103" stop-color="#003aff"/><stop offset="0.112" stop-color="#003eff"/><stop offset="0.121" stop-color="#0042ff"/><stop offset="0.129" stop-color="#0046ff"/><stop offset="0.138" stop-color="#004aff"/><stop offset="0.147" stop-color="#004eff"/><stop offset="0.155" stop-color="#0052ff"/><stop offset="0.164" stop-color="#0056ff"/><stop offset="0.172" stop-color="#005aff"/><stop offset="0.181" stop-color="#005eff"/><stop offset="0.190" stop-color="#0062ff"/><stop offset="0.198" stop-color="#0068ff"/><stop offset="0.207" stop-color="#006eff"/><stop offset="0.216" stop-color="#0075ff"/><stop offset="0.224" stop-color="#007cff"/><stop offset="0.233" stop-color="#0082ff"/><stop offset="0.241" stop-color="#0089ff"/><stop offset="0.250" stop-color="#0090ff"/><stop offset="0.259" stop-color="#0096ff"/><stop offset="0.267" stop-color="#009dff"/><stop offset="0.276" stop-color="#00a7ff"/><stop offset="0.284" stop-color="#00b3ff"/><stop offset="0.293" stop-color="#00bfff"/><stop offset="0.302" stop-color="#00cbff"/><stop offset="0.310" stop-color="#00d8ff"/><stop offset="0.319" stop-color="#00e3ff"/><stop offset="0.328" stop-color="#00efff"/><stop offset="0.336" stop-color="#00faff"/><stop offset="0.345" stop-color="#00fffb"/><stop offset="0.353" stop-color="#00fff2"/><stop offset="0.362" stop-color="#00ffe9"/><stop offset="0.371" stop-color="#00ffe0"/><stop offset="0.379" stop-color="#00ffd6"/><stop offset="0.388" stop-color="#00ffcc"/><stop offset="0.397" stop-color="#00ffc2"/><stop offset="0.405" stop-color="#00ffb8"/><stop offset="0.414" stop-color="#00ffae"/><stop offset="0.422" stop-color="#00ffa3"/><stop offset="0.431" stop-color="#00ff97"/><stop offset="0.440" stop-color="#00ff8b"/><stop offset="0.448" stop-color="#00ff7f"/><stop offset="0.457" stop-color="#00ff73"/><stop offset="0.466" stop-color="#00ff67"/><stop offset="0.474" stop-color="#00ff5a"/><stop offset="0.483" stop-color="#00ff4e"/><stop offset="0.491" stop-color="#00ff41"/><stop offset="0.500" stop-color="#00ff34"/><stop offset="0.509" stop-color="#00ff27"/><stop offset="0.517" stop-color="#00ff1a"/><stop offset="0.526" stop-color="#00ff0a"/><stop offset="0.534" stop-color="#07ff00"/><stop offset="0.543" stop-color="#18ff00"/><stop offset="0.552" stop-color="#29ff00"/><stop offset="0.560" stop-color="#3aff00"/><stop offset="0.569" stop-color="#4bff00"/><stop offset="0.578" stop-color="#5cff00"/><stop offset="0.586" stop-color="#70ff00"/><stop offset="0.595" stop-color="#84ff00"/><stop offset="0.603" stop-color="#98ff00"/><stop offset="0.612" stop-color="#acff00"/><stop offset="0.621" stop-color="#c0ff00"/><stop offset="0.629" stop-color="#d4ff00"/><stop offset="0.638" stop-color="#e8ff00"/><stop offset="0.647" stop-color="#fcff00"/><stop offset="0.655" stop-color="#ffee00"/><stop offset="0.664" stop-color="#ffdd00"/><stop offset="0.672" stop-color="#ffcc00"/><stop offset="0.681" stop-color="#ffbb00"/><stop offset="0.690" stop-color="#ffab00"/><stop offset="0.698" stop-color="#ff9c00"/><stop offset="0.707" stop-color="#ff8d00"/><stop offset="0.716" stop-color="#ff7e00"/><stop offset="0.724" stop-color="#ff7100"/><stop offset="0.733" stop-color="#ff6600"/><stop offset="0.741" stop-color="#ff5c00"/><stop offset="0.750" stop-color="#ff5100"/><stop offset="0.759" stop-color="#ff4600"/><stop offset="0.767" stop-color="#ff3b00"/><stop offset="0.776" stop-color="#ff3600"/><stop offset="0.784" stop-color="#ff3000"/><stop offset="0.793" stop-color="#ff2b00"/><stop offset="0.802" stop-color="#ff2600"/><stop offset="0.810" stop-color="#ff2000"/><stop offset="0.819" stop-color="#ff1c00"/><stop offset="0.828" stop-color="#ff1900"/><stop offset="0.836" stop-color="#ff1500"/><stop offset="0.845" stop-color="#ff1200"/><stop offset="0.853" stop-color="#ff0f00"/><stop offset="0.862" stop-color="#ff0b00"/><stop offset="0.871" stop-color="#ff0800"/><stop offset="0.879" stop-color="#ff0500"/><stop offset="0.888" stop-color="#ff0100"/><stop offset="0.897" stop-color="#ff0000"/><stop offset="1.000" stop-color="#ff0000"/></linearGradient>
<linearGradient id="g10" gradientUnits="userSpaceOnUse" x1="48.0" y1="0" x2="279.8" y2="0" gradientTransform="translate(32.18,0) skewX(-8.0)"><stop offset="0.000" stop-color="#0014ff"/><stop offset="0.087" stop-color="#0014ff"/><stop offset="0.096" stop-color="#0017ff"/><stop offset="0.104" stop-color="#001aff"/><stop offset="0.113" stop-color="#001dff"/><stop offset="0.122" stop-color="#0020ff"/><stop offset="0.130" stop-color="#0022ff"/><stop offset="0.139" stop-color="#0025ff"/><stop offset="0.148" stop-color="#0028ff"/><stop offset="0.157" stop-color="#002bff"/><stop offset="0.165" stop-color="#002eff"/><stop offset="0.174" stop-color="#0030ff"/><stop offset="0.183" stop-color="#0033ff"/><stop offset="0.191" stop-color="#0036ff"/><stop offset="0.200" stop-color="#003aff"/><stop offset="0.209" stop-color="#003fff"/><stop offset="0.217" stop-color="#0043ff"/><stop offset="0.226" stop-color="#0047ff"/><stop offset="0.235" stop-color="#004cff"/><stop offset="0.243" stop-color="#0050ff"/><stop offset="0.252" stop-color="#0055ff"/><stop offset="0.261" stop-color="#0059ff"/><stop offset="0.270" stop-color="#005eff"/><stop offset="0.278" stop-color="#0063ff"/><stop offset="0.287" stop-color="#0069ff"/><stop offset="0.296" stop-color="#006fff"/><stop offset="0.304" stop-color="#0075ff"/><stop offset="0.313" stop-color="#007bff"/><stop offset="0.322" stop-color="#0081ff"/><stop offset="0.330" stop-color="#0086ff"/><stop offset="0.339" stop-color="#008cff"/><stop offset="0.348" stop-color="#0092ff"/><stop offset="0.357" stop-color="#0098ff"/><stop offset="0.365" stop-color="#009eff"/><stop offset="0.374" stop-color="#00a4ff"/><stop offset="0.383" stop-color="#00aaff"/><stop offset="0.391" stop-color="#00b1ff"/><stop offset="0.400" stop-color="#00b7ff"/><stop offset="0.409" stop-color="#00bdff"/><stop offset="0.417" stop-color="#00c3ff"/><stop offset="0.426" stop-color="#00c9ff"/><stop offset="0.435" stop-color="#00d0ff"/><stop offset="0.443" stop-color="#00d8ff"/><stop offset="0.452" stop-color="#00e0ff"/><stop offset="0.461" stop-color="#00e8ff"/><stop offset="0.470" stop-color="#00efff"/><stop offset="0.478" stop-color="#00faff"/><stop offset="0.487" stop-color="#00fff8"/><stop offset="0.496" stop-color="#00ffed"/><stop offset="0.504" stop-color="#00ffe2"/><stop offset="0.513" stop-color="#00ffd5"/><stop offset="0.522" stop-color="#00ffc7"/><stop offset="0.530" stop-color="#00ffb9"/><stop offset="0.539" stop-color="#00ffaa"/><stop offset="0.548" stop-color="#00ff9d"/><stop offset="0.557" stop-color="#00ff8f"/><stop offset="0.565" stop-color="#00ff82"/><stop offset="0.574" stop-color="#00ff74"/><stop offset="0.583" stop-color="#00ff67"/><stop offset="0.591" stop-color="#00ff5a"/><stop offset="0.600" stop-color="#00ff4e"/><stop offset="0.609" stop-color="#00ff41"/><stop offset="0.617" stop-color="#00ff34"/><stop offset="0.626" stop-color="#00ff27"/><stop offset="0.635" stop-color="#00ff15"/><stop offset="0.643" stop-color="#00ff02"/><stop offset="0.652" stop-color="#10ff00"/><stop offset="0.661" stop-color="#22ff00"/><stop offset="0.670" stop-color="#35ff00"/><stop offset="0.678" stop-color="#48ff00"/><stop offset="0.687" stop-color="#5cff00"/><stop offset="0.696" stop-color="#71ff00"/><stop offset="0.704" stop-color="#85ff00"/><stop offset="0.713" stop-color="#99ff00"/><stop offset="0.722" stop-color="#adff00"/><stop offset="0.730" stop-color="#bfff00"/><stop offset="0.739" stop-color="#d1ff00"/><stop offset="0.748" stop-color="#e4ff00"/><stop offset="0.757" stop-color="#f6ff00"/><stop offset="0.765" stop-color="#fff600"/><stop offset="0.774" stop-color="#ffe200"/><stop offset="0.783" stop-color="#ffce00"/><stop offset="0.791" stop-color="#ffba00"/><stop offset="0.800" stop-color="#ffaa00"/><stop offset="0.809" stop-color="#ff9c00"/><stop offset="0.817" stop-color="#ff8e00"/><stop offset="0.826" stop-color="#ff8000"/><stop offset="0.835" stop-color="#ff7100"/><stop offset="0.843" stop-color="#ff6600"/><stop offset="0.852" stop-color="#ff5a00"/><stop offset="0.861" stop-color="#ff4f00"/><stop offset="0.870" stop-color="#ff4400"/><stop offset="0.878" stop-color="#ff3a00"/><stop offset="0.887" stop-color="#ff3300"/><stop offset="0.896" stop-color="#ff2b00"/><stop offset="0.904" stop-color="#ff2400"/><stop offset="0.913" stop-color="#ff1d00"/><stop offset="0.922" stop-color="#ff1500"/><stop offset="0.930" stop-color="#ff1400"/><stop offset="1.000" stop-color="#ff1400"/></linearGradient>
<linearGradient id="g11" gradientUnits="userSpaceOnUse" x1="48.0" y1="0" x2="280.0" y2="0" gradientTransform="translate(35.98,0) skewX(-8.0)"><stop offset="0.000" stop-color="#000aff"/><stop offset="0.086" stop-color="#000aff"/><stop offset="0.095" stop-color="#000cff"/><stop offset="0.103" stop-color="#000dff"/><stop offset="0.112" stop-color="#000fff"/><stop offset="0.121" stop-color="#0010ff"/><stop offset="0.129" stop-color="#0012ff"/><stop offset="0.138" stop-color="#0014ff"/><stop offset="0.147" stop-color="#0015ff"/><stop offset="0.155" stop-color="#0017ff"/><stop offset="0.164" stop-color="#0018ff"/><stop offset="0.172" stop-color="#001aff"/><stop offset="0.181" stop-color="#001cff"/><stop offset="0.190" stop-color="#001dff"/><stop offset="0.198" stop-color="#001fff"/><stop offset="0.207" stop-color="#0022ff"/><stop offset="0.216" stop-color="#0025ff"/><stop offset="0.224" stop-color="#0028ff"/><stop offset="0.233" stop-color="#002bff"/><stop offset="0.241" stop-color="#002dff"/><stop offset="0.250" stop-color="#0030ff"/><stop offset="0.259" stop-color="#0033ff"/><stop offset="0.267" stop-color="#0036ff"/><stop offset="0.276" stop-color="#0039ff"/><stop offset="0.284" stop-color="#003cff"/><stop offset="0.293" stop-color="#003fff"/><stop offset="0.302" stop-color="#0042ff"/><stop offset="0.310" stop-color="#0045ff"/><stop offset="0.319" stop-color="#0048ff"/><stop offset="0.328" stop-color="#004cff"/><stop offset="0.336" stop-color="#004fff"/><stop offset="0.345" stop-color="#0052ff"/><stop offset="0.353" stop-color="#0055ff"/><stop offset="0.362" stop-color="#0059ff"/><stop offset="0.371" stop-color="#005dff"/><stop offset="0.379" stop-color="#0061ff"/><stop offset="0.388" stop-color="#0065ff"/><stop offset="0.397" stop-color="#0068ff"/><stop offset="0.405" stop-color="#006cff"/><stop offset="0.414" stop-color="#0070ff"/><stop offset="0.422" stop-color="#0074ff"/><stop offset="0.431" stop-color="#0078ff"/><stop offset="0.440" stop-color="#007fff"/><stop offset="0.448" stop-color="#0086ff"/><stop offset="0.457" stop-color="#008dff"/><stop offset="0.466" stop-color="#0093ff"/><stop offset="0.474" stop-color="#009aff"/><stop offset="0.483" stop-color="#00a1ff"/><stop offset="0.491" stop-color="#00a8ff"/><stop offset="0.500" stop-color="#00afff"/><stop offset="0.509" stop-color="#00baff"/><stop offset="0.517" stop-color="#00c5ff"/><stop offset="0.526" stop-color="#00d0ff"/><stop offset="0.534" stop-color="#00dbff"/><stop offset="0.543" stop-color="#00e6ff"/><stop offset="0.552" stop-color="#00f2ff"/><stop offset="0.560" stop-color="#00fffe"/><stop offset="0.569" stop-color="#00fff0"/><stop offset="0.578" stop-color="#00ffe7"/><stop offset="0.586" stop-color="#00ffde"/><stop offset="0.595" stop-color="#00ffd5"/><stop offset="0.603" stop-color="#00ffcc"/><stop offset="0.612" stop-color="#00ffc4"/><stop offset="0.621" stop-color="#00ffbb"/><stop offset="0.629" stop-color="#00ffb2"/><stop offset="0.638" stop-color="#00ffa9"/><stop offset="0.647" stop-color="#00ffa0"/><stop offset="0.655" stop-color="#00ff96"/><stop offset="0.664" stop-color="#00ff8c"/><stop offset="0.672" stop-color="#00ff82"/><stop offset="0.681" stop-color="#00ff78"/><stop offset="0.690" stop-color="#00ff6e"/><stop offset="0.698" stop-color="#00ff64"/><stop offset="0.707" stop-color="#00ff5a"/><stop offset="0.716" stop-color="#00ff50"/><stop offset="0.724" stop-color="#00ff37"/><stop offset="0.733" stop-color="#00ff1e"/><stop offset="0.741" stop-color="#00ff05"/><stop offset="0.750" stop-color="#14ff00"/><stop offset="0.759" stop-color="#20ff00"/><stop offset="0.767" stop-color="#2dff00"/><stop offset="0.776" stop-color="#39ff00"/><stop offset="0.784" stop-color="#45ff00"/><stop offset="0.793" stop-color="#52ff00"/><stop offset="0.802" stop-color="#5eff00"/><stop offset="0.810" stop-color="#6aff00"/><stop offset="0.819" stop-color="#77ff00"/><stop offset="0.828" stop-color="#84ff00"/><stop offset="0.836" stop-color="#91ff00"/><stop offset="0.845" stop-color="#9dff00"/><stop offset="0.853" stop-color="#aaff00"/><stop offset="0.862" stop-color="#b7ff00"/><stop offset="0.871" stop-color="#c5ff00"/><stop offset="0.879" stop-color="#d2ff00"/><stop offset="0.888" stop-color="#dfff00"/><stop offset="0.897" stop-color="#ecff00"/><stop offset="0.905" stop-color="#f9ff00"/><stop offset="0.914" stop-color="#fff800"/><stop offset="0.922" stop-color="#ffeb00"/><stop offset="1.000" stop-color="#ffeb00"/></linearGradient>
<linearGradient id="g12" gradientUnits="userSpaceOnUse" x1="48.0" y1="0" x2="280.8" y2="0" gradientTransform="translate(39.91,0) skewX(-8.0)"><stop offset="0.000" stop-color="#001eff"/><stop offset="0.086" stop-color="#001eff"/><stop offset="0.095" stop-color="#0021ff"/><stop offset="0.103" stop-color="#0025ff"/><stop offset="0.112" stop-color="#0028ff"/><stop offset="0.121" stop-color="#002bff"/><stop offset="0.129" stop-color="#002eff"/><stop offset="0.138" stop-color="#0031ff"/><stop offset="0.147" stop-color="#0035ff"/><stop offset="0.155" stop-color="#0038ff"/><stop offset="0.164" stop-color="#003bff"/><stop offset="0.172" stop-color="#003eff"/><stop offset="0.181" stop-color="#0041ff"/><stop offset="0.190" stop-color="#0045ff"/><stop offset="0.198" stop-color="#0048ff"/><stop offset="0.207" stop-color="#004cff"/><stop offset="0.216" stop-color="#0050ff"/><stop offset="0.224" stop-color="#0054ff"/><stop offset="0.233" stop-color="#0058ff"/><stop offset="0.241" stop-color="#005cff"/><stop offset="0.250" stop-color="#0060ff"/><stop offset="0.259" stop-color="#0064ff"/><stop offset="0.267" stop-color="#0067ff"/><stop offset="0.276" stop-color="#006cff"/><stop offset="0.284" stop-color="#0071ff"/><stop offset="0.293" stop-color="#0075ff"/><stop offset="0.302" stop-color="#007aff"/><stop offset="0.310" stop-color="#007fff"/><stop offset="0.319" stop-color="#0084ff"/><stop offset="0.328" stop-color="#0088ff"/><stop offset="0.336" stop-color="#008dff"/><stop offset="0.345" stop-color="#0092ff"/><stop offset="0.353" stop-color="#0097ff"/><stop offset="0.362" stop-color="#009fff"/><stop offset="0.371" stop-color="#00a7ff"/><stop offset="0.379" stop-color="#00afff"/><stop offset="0.388" stop-color="#00b6ff"/><stop offset="0.397" stop-color="#00beff"/><stop offset="0.405" stop-color="#00c6ff"/><stop offset="0.414" stop-color="#00ceff"/><stop offset="0.422" stop-color="#00d6ff"/><stop offset="0.431" stop-color="#00deff"/><stop offset="0.440" stop-color="#00e8ff"/><stop offset="0.448" stop-color="#00f2ff"/><stop offset="0.457" stop-color="#00fcff"/><stop offset="0.466" stop-color="#00fff7"/><stop offset="0.474" stop-color="#00ffec"/><stop offset="0.483" stop-color="#00ffe1"/><stop offset="0.491" stop-color="#00ffd5"/><stop offset="0.500" stop-color="#00ffca"/><stop offset="0.509" stop-color="#00ffbe"/><stop offset="0.517" stop-color="#00ffb2"/><stop offset="0.526" stop-color="#00ffa7"/><stop offset="0.534" stop-color="#00ff9b"/><stop offset="0.543" stop-color="#00ff8f"/><stop offset="0.552" stop-color="#00ff84"/><stop offset="0.560" stop-color="#00ff7a"/><stop offset="0.569" stop-color="#00ff6f"/><stop offset="0.578" stop-color="#00ff64"/><stop offset="0.586" stop-color="#00ff59"/><stop offset="0.595" stop-color="#00ff4f"/><stop offset="0.603" stop-color="#00ff44"/><stop offset="0.612" stop-color="#00ff38"/><stop offset="0.621" stop-color="#00ff26"/><stop offset="0.629" stop-color="#00ff13"/><stop offset="0.638" stop-color="#00ff01"/><stop offset="0.647" stop-color="#11ff00"/><stop offset="0.655" stop-color="#23ff00"/><stop offset="0.664" stop-color="#35ff00"/><stop offset="0.672" stop-color="#47ff00"/><stop offset="0.681" stop-color="#59ff00"/><stop offset="0.690" stop-color="#6cff00"/><stop offset="0.698" stop-color="#7eff00"/><stop offset="0.707" stop-color="#8fff00"/><stop offset="0.716" stop-color="#9fff00"/><stop offset="0.724" stop-color="#afff00"/><stop offset="0.733" stop-color="#bfff00"/><stop offset="0.741" stop-color="#cfff00"/><stop offset="0.750" stop-color="#deff00"/><stop offset="0.759" stop-color="#ecff00"/><stop offset="0.767" stop-color="#fbff00"/><stop offset="0.776" stop-color="#fff500"/><stop offset="0.784" stop-color="#ffe500"/><stop offset="0.793" stop-color="#ffd300"/><stop offset="0.802" stop-color="#ffc000"/><stop offset="0.810" stop-color="#ffad00"/><stop offset="0.819" stop-color="#ff9e00"/><stop offset="0.828" stop-color="#ff9000"/><stop offset="0.836" stop-color="#ff8200"/><stop offset="0.845" stop-color="#ff7400"/><stop offset="0.853" stop-color="#ff6600"/><stop offset="0.862" stop-color="#ff5e00"/><stop offset="0.871" stop-color="#ff5600"/><stop offset="0.879" stop-color="#ff4f00"/><stop offset="0.888" stop-color="#ff4700"/><stop offset="0.897" stop-color="#ff4100"/><stop offset="0.905" stop-color="#ff3b00"/><stop offset="0.914" stop-color="#ff3600"/><stop offset="0.922" stop-color="#ff3200"/><stop offset="1.000" stop-color="#ff3200"/></linearGradient>
<linearGradient id="g13" gradientUnits="userSpaceOnUse" x1="333.9" y1="0" x2="566.1" y2="0" gradientTransform="translate(28.11,0) skewX(-8.0)"><stop offset="0.000" stop-color="#005aff"/><stop offset="0.086" stop-color="#005aff"/><stop offset="0.095" stop-color="#005fff"/><stop offset="0.103" stop-color="#0065ff"/><stop offset="0.112" stop-color="#006bff"/><stop offset="0.121" stop-color="#0071ff"/><stop offset="0.129" stop-color="#0076ff"/><stop offset="0.138" stop-color="#007cff"/><stop offset="0.147" stop-color="#0082ff"/><stop offset="0.155" stop-color="#008bff"/><stop offset="0.164" stop-color="#0093ff"/><stop offset="0.172" stop-color="#009cff"/><stop offset="0.181" stop-color="#00a5ff"/><stop offset="0.190" stop-color="#00aeff"/><stop offset="0.198" stop-color="#00b7ff"/><stop offset="0.207" stop-color="#00c0ff"/><stop offset="0.216" stop-color="#00c9ff"/><stop offset="0.224" stop-color="#00d2ff"/><stop offset="0.233" stop-color="#00daff"/><stop offset="0.241" stop-color="#00e1ff"/><stop offset="0.250" stop-color="#00e9ff"/><stop offset="0.259" stop-color="#00f1ff"/><stop offset="0.267" stop-color="#00fbff"/><stop offset="0.276" stop-color="#00fff7"/><stop offset="0.284" stop-color="#00ffeb"/><stop offset="0.293" stop-color="#00ffde"/><stop offset="0.302" stop-color="#00ffd2"/><stop offset="0.310" stop-color="#00ffc8"/><stop offset="0.319" stop-color="#00ffbe"/><stop offset="0.328" stop-color="#00ffb4"/><stop offset="0.336" stop-color="#00ffaa"/><stop offset="0.345" stop-color="#00ffa0"/><stop offset="0.353" stop-color="#00ff97"/><stop offset="0.362" stop-color="#00ff8e"/><stop offset="0.371" stop-color="#00ff85"/><stop offset="0.379" stop-color="#00ff7d"/><stop offset="0.388" stop-color="#00ff73"/><stop offset="0.397" stop-color="#00ff67"/><stop offset="0.405" stop-color="#00ff5c"/><stop offset="0.414" stop-color="#00ff51"/><stop offset="0.422" stop-color="#00ff46"/><stop offset="0.431" stop-color="#00ff32"/><stop offset="0.440" stop-color="#00ff1e"/><stop offset="0.448" stop-color="#00ff0a"/><stop offset="0.457" stop-color="#0aff00"/><stop offset="0.466" stop-color="#1aff00"/><stop offset="0.474" stop-color="#25ff00"/><stop offset="0.483" stop-color="#31ff00"/><stop offset="0.491" stop-color="#3cff00"/><stop offset="0.500" stop-color="#47ff00"/><stop offset="0.509" stop-color="#52ff00"/><stop offset="0.517" stop-color="#5dff00"/><stop offset="0.526" stop-color="#68ff00"/><stop offset="0.534" stop-color="#77ff00"/><stop offset="0.543" stop-color="#89ff00"/><stop offset="0.552" stop-color="#9bff00"/><stop offset="0.560" stop-color="#acff00"/><stop offset="0.569" stop-color="#beff00"/><stop offset="0.578" stop-color="#deff00"/><stop offset="0.586" stop-color="#feff00"/><stop offset="0.595" stop-color="#ffe800"/><stop offset="0.603" stop-color="#ffd700"/><stop offset="0.612" stop-color="#ffc600"/><stop offset="0.621" stop-color="#ffb700"/><stop offset="0.629" stop-color="#ffa800"/><stop offset="0.638" stop-color="#ff9a00"/><stop offset="0.647" stop-color="#ff8c00"/><stop offset="0.655" stop-color="#ff8100"/><stop offset="0.664" stop-color="#ff7600"/><stop offset="0.672" stop-color="#ff6a00"/><stop offset="0.681" stop-color="#ff5f00"/><stop offset="0.690" stop-color="#ff5500"/><stop offset="0.698" stop-color="#ff4c00"/><stop offset="0.707" stop-color="#ff4400"/><stop offset="0.716" stop-color="#ff3b00"/><stop offset="0.724" stop-color="#ff3200"/><stop offset="0.733" stop-color="#ff2d00"/><stop offset="0.741" stop-color="#ff2900"/><stop offset="0.750" stop-color="#ff2500"/><stop offset="0.759" stop-color="#ff2000"/><stop offset="0.767" stop-color="#ff1d00"/><stop offset="0.776" stop-color="#ff1b00"/><stop offset="0.784" stop-color="#ff1900"/><stop offset="0.793" stop-color="#ff1700"/><stop offset="0.802" stop-color="#ff1400"/><stop offset="0.810" stop-color="#ff1200"/><stop offset="0.819" stop-color="#ff1000"/><stop offset="0.828" stop-color="#ff0e00"/><stop offset="0.836" stop-color="#ff0c00"/><stop offset="0.845" stop-color="#ff0a00"/><stop offset="0.853" stop-color="#ff0900"/><stop offset="0.862" stop-color="#ff0800"/><stop offset="0.871" stop-color="#ff0600"/><stop offset="0.879" stop-color="#ff0500"/><stop offset="0.888" stop-color="#ff0400"/><stop offset="0.897" stop-color="#ff0300"/><stop offset="0.905" stop-color="#ff0200"/><stop offset="0.914" stop-color="#ff0100"/><stop offset="0.922" stop-color="#ff0000"/><stop offset="1.000" stop-color="#ff0000"/></linearGradient>
<linearGradient id="g14" gradientUnits="userSpaceOnUse" x1="333.9" y1="0" x2="565.9" y2="0" gradientTransform="translate(32.04,0) skewX(-8.0)"><stop offset="0.000" stop-color="#001eff"/><stop offset="0.086" stop-color="#001eff"/><stop offset="0.095" stop-color="#0021ff"/><stop offset="0.103" stop-color="#0024ff"/><stop offset="0.112" stop-color="#0026ff"/><stop offset="0.121" stop-color="#0029ff"/><stop offset="0.129" stop-color="#002cff"/><stop offset="0.138" stop-color="#002fff"/><stop offset="0.147" stop-color="#0032ff"/><stop offset="0.155" stop-color="#0036ff"/><stop offset="0.164" stop-color="#003bff"/><stop offset="0.172" stop-color="#003fff"/><stop offset="0.181" stop-color="#0044ff"/><stop offset="0.190" stop-color="#0048ff"/><stop offset="0.198" stop-color="#004cff"/><stop offset="0.207" stop-color="#0051ff"/><stop offset="0.216" stop-color="#0055ff"/><stop offset="0.224" stop-color="#005aff"/><stop offset="0.233" stop-color="#005eff"/><stop offset="0.241" stop-color="#0063ff"/><stop offset="0.250" stop-color="#0067ff"/><stop offset="0.259" stop-color="#006cff"/><stop offset="0.267" stop-color="#0070ff"/><stop offset="0.276" stop-color="#0076ff"/><stop offset="0.284" stop-color="#007bff"/><stop offset="0.293" stop-color="#0080ff"/><stop offset="0.302" stop-color="#0085ff"/><stop offset="0.310" stop-color="#008bff"/><stop offset="0.319" stop-color="#0090ff"/><stop offset="0.328" stop-color="#0095ff"/><stop offset="0.336" stop-color="#009aff"/><stop offset="0.345" stop-color="#00a0ff"/><stop offset="0.353" stop-color="#00a8ff"/><stop offset="0.362" stop-color="#00b1ff"/><stop offset="0.371" stop-color="#00baff"/><stop offset="0.379" stop-color="#00c3ff"/><stop offset="0.388" stop-color="#00cbff"/><stop offset="0.397" stop-color="#00d3ff"/><stop offset="0.405" stop-color="#00dbff"/><stop offset="0.414" stop-color="#00e3ff"/><stop offset="0.422" stop-color="#00ebff"/><stop offset="0.431" stop-color="#00f7ff"/><stop offset="0.440" stop-color="#00fffb"/><stop offset="0.448" stop-color="#00ffef"/><stop offset="0.457" stop-color="#00ffe3"/><stop offset="0.466" stop-color="#00ffd6"/><stop offset="0.474" stop-color="#00ffc9"/><stop offset="0.483" stop-color="#00ffbd"/><stop offset="0.491" stop-color="#00ffb0"/><stop offset="0.500" stop-color="#00ffa3"/><stop offset="0.509" stop-color="#00ff97"/><stop offset="0.517" stop-color="#00ff8b"/><stop offset="0.526" stop-color="#00ff7f"/><stop offset="0.534" stop-color="#00ff71"/><stop offset="0.543" stop-color="#00ff61"/><stop offset="0.552" stop-color="#00ff52"/><stop offset="0.560" stop-color="#00ff42"/><stop offset="0.569" stop-color="#00ff33"/><stop offset="0.578" stop-color="#00ff1d"/><stop offset="0.586" stop-color="#00ff07"/><stop offset="0.595" stop-color="#10ff00"/><stop offset="0.603" stop-color="#26ff00"/><stop offset="0.612" stop-color="#39ff00"/><stop offset="0.621" stop-color="#49ff00"/><stop offset="0.629" stop-color="#58ff00"/><stop offset="0.638" stop-color="#68ff00"/><stop offset="0.647" stop-color="#77ff00"/><stop offset="0.655" stop-color="#87ff00"/><stop offset="0.664" stop-color="#96ff00"/><stop offset="0.672" stop-color="#a6ff00"/><stop offset="0.681" stop-color="#b5ff00"/><stop offset="0.690" stop-color="#c4ff00"/><stop offset="0.698" stop-color="#d3ff00"/><stop offset="0.707" stop-color="#e1ff00"/><stop offset="0.716" stop-color="#efff00"/><stop offset="0.724" stop-color="#fffb00"/><stop offset="0.733" stop-color="#ffe700"/><stop offset="0.741" stop-color="#ffd500"/><stop offset="0.750" stop-color="#ffc400"/><stop offset="0.759" stop-color="#ffb300"/><stop offset="0.767" stop-color="#ffa200"/><stop offset="0.776" stop-color="#ff9100"/><stop offset="0.784" stop-color="#ff8000"/><stop offset="0.793" stop-color="#ff6f00"/><stop offset="0.802" stop-color="#ff6200"/><stop offset="0.810" stop-color="#ff5600"/><stop offset="0.819" stop-color="#ff4900"/><stop offset="0.828" stop-color="#ff3d00"/><stop offset="0.836" stop-color="#ff3600"/><stop offset="0.845" stop-color="#ff2f00"/><stop offset="0.853" stop-color="#ff2800"/><stop offset="0.862" stop-color="#ff2200"/><stop offset="0.871" stop-color="#ff1d00"/><stop offset="0.879" stop-color="#ff1900"/><stop offset="0.888" stop-color="#ff1600"/><stop offset="0.897" stop-color="#ff1300"/><stop offset="0.905" stop-color="#ff0f00"/><stop offset="0.914" stop-color="#ff0c00"/><stop offset="0.922" stop-color="#ff0a00"/><stop offset="1.000" stop-color="#ff0a00"/></linearGradient>
<linearGradient id="g15" gradientUnits="userSpaceOnUse" x1="333.9" y1="0" x2="566.1" y2="0" gradientTransform="translate(35.98,0) skewX(-8.0)"><stop offset="0.000" stop-color="#001eff"/><stop offset="0.086" stop-color="#001eff"/><stop offset="0.095" stop-color="#0020ff"/><stop offset="0.103" stop-color="#0021ff"/><stop offset="0.112" stop-color="#0023ff"/><stop offset="0.121" stop-color="#0025ff"/><stop offset="0.129" stop-color="#0027ff"/><stop offset="0.138" stop-color="#0028ff"/><stop offset="0.147" stop-color="#002aff"/><stop offset="0.155" stop-color="#002cff"/><stop offset="0.164" stop-color="#002eff"/><stop offset="0.172" stop-color="#002fff"/><stop offset="0.181" stop-color="#0031ff"/><stop offset="0.190" stop-color="#0033ff"/><stop offset="0.198" stop-color="#0036ff"/><stop offset="0.207" stop-color="#0039ff"/><stop offset="0.216" stop-color="#003cff"/><stop offset="0.224" stop-color="#003eff"/><stop offset="0.233" stop-color="#0041ff"/><stop offset="0.241" stop-color="#0044ff"/><stop offset="0.250" stop-color="#0047ff"/><stop offset="0.259" stop-color="#004aff"/><stop offset="0.267" stop-color="#004dff"/><stop offset="0.276" stop-color="#0050ff"/><stop offset="0.284" stop-color="#0053ff"/><stop offset="0.293" stop-color="#0056ff"/><stop offset="0.302" stop-color="#0059ff"/><stop offset="0.310" stop-color="#005cff"/><stop offset="0.319" stop-color="#005fff"/><stop offset="0.328" stop-color="#0063ff"/><stop offset="0.336" stop-color="#0066ff"/><stop offset="0.345" stop-color="#0069ff"/><stop offset="0.353" stop-color="#006dff"/><stop offset="0.362" stop-color="#0071ff"/><stop offset="0.371" stop-color="#0075ff"/><stop offset="0.379" stop-color="#0079ff"/><stop offset="0.388" stop-color="#007cff"/><stop offset="0.397" stop-color="#0080ff"/><stop offset="0.405" stop-color="#0084ff"/><stop offset="0.414" stop-color="#0088ff"/><stop offset="0.422" stop-color="#008cff"/><stop offset="0.431" stop-color="#0093ff"/><stop offset="0.440" stop-color="#009bff"/><stop offset="0.448" stop-color="#00a2ff"/><stop offset="0.457" stop-color="#00aaff"/><stop offset="0.466" stop-color="#00b1ff"/><stop offset="0.474" stop-color="#00b9ff"/><stop offset="0.483" stop-color="#00c0ff"/><stop offset="0.491" stop-color="#00c8ff"/><stop offset="0.500" stop-color="#00d2ff"/><stop offset="0.509" stop-color="#00dcff"/><stop offset="0.517" stop-color="#00e6ff"/><stop offset="0.526" stop-color="#00f0ff"/><stop offset="0.534" stop-color="#00fbff"/><stop offset="0.543" stop-color="#00fff8"/><stop offset="0.552" stop-color="#00ffed"/><stop offset="0.560" stop-color="#00ffe2"/><stop offset="0.569" stop-color="#00ffd7"/><stop offset="0.578" stop-color="#00ffcd"/><stop offset="0.586" stop-color="#00ffc3"/><stop offset="0.595" stop-color="#00ffb9"/><stop offset="0.603" stop-color="#00ffaf"/><stop offset="0.612" stop-color="#00ffa4"/><stop offset="0.621" stop-color="#00ff99"/><stop offset="0.629" stop-color="#00ff8e"/><stop offset="0.638" stop-color="#00ff83"/><stop offset="0.647" stop-color="#00ff78"/><stop offset="0.655" stop-color="#00ff6c"/><stop offset="0.664" stop-color="#00ff61"/><stop offset="0.672" stop-color="#00ff55"/><stop offset="0.681" stop-color="#00ff4a"/><stop offset="0.690" stop-color="#00ff3e"/><stop offset="0.698" stop-color="#00ff33"/><stop offset="0.707" stop-color="#00ff24"/><stop offset="0.716" stop-color="#00ff14"/><stop offset="0.724" stop-color="#00ff03"/><stop offset="0.733" stop-color="#0eff00"/><stop offset="0.741" stop-color="#1eff00"/><stop offset="0.750" stop-color="#2eff00"/><stop offset="0.759" stop-color="#3eff00"/><stop offset="0.767" stop-color="#4dff00"/><stop offset="0.776" stop-color="#5dff00"/><stop offset="0.784" stop-color="#6cff00"/><stop offset="0.793" stop-color="#7aff00"/><stop offset="0.802" stop-color="#89ff00"/><stop offset="0.810" stop-color="#97ff00"/><stop offset="0.819" stop-color="#a5ff00"/><stop offset="0.828" stop-color="#b2ff00"/><stop offset="0.836" stop-color="#beff00"/><stop offset="0.845" stop-color="#caff00"/><stop offset="0.853" stop-color="#d6ff00"/><stop offset="0.862" stop-color="#e4ff00"/><stop offset="0.871" stop-color="#f4ff00"/><stop offset="0.879" stop-color="#fffa00"/><stop offset="0.888" stop-color="#ffeb00"/><stop offset="0.897" stop-color="#ffde00"/><stop offset="0.905" stop-color="#ffd100"/><stop offset="0.914" stop-color="#ffc400"/><stop offset="0.922" stop-color="#ffbe00"/><stop offset="1.000" stop-color="#ffbe00"/></linearGradient>
<linearGradient id="g16" gradientUnits="userSpaceOnUse" x1="333.9" y1="0" x2="565.9" y2="0" gradientTransform="translate(39.91,0) skewX(-8.0)"><stop offset="0.000" stop-color="#0028ff"/><stop offset="0.086" stop-color="#0028ff"/><stop offset="0.095" stop-color="#002bff"/><stop offset="0.103" stop-color="#002fff"/><stop offset="0.112" stop-color="#0032ff"/><stop offset="0.121" stop-color="#0036ff"/><stop offset="0.129" stop-color="#0039ff"/><stop offset="0.138" stop-color="#003dff"/><stop offset="0.147" stop-color="#0040ff"/><stop offset="0.155" stop-color="#0044ff"/><stop offset="0.164" stop-color="#0047ff"/><stop offset="0.172" stop-color="#004bff"/><stop offset="0.181" stop-color="#004eff"/><stop offset="0.190" stop-color="#0052ff"/><stop offset="0.198" stop-color="#0056ff"/><stop offset="0.207" stop-color="#005bff"/><stop offset="0.216" stop-color="#005fff"/><stop offset="0.224" stop-color="#0064ff"/><stop offset="0.233" stop-color="#0068ff"/><stop offset="0.241" stop-color="#006dff"/><stop offset="0.250" stop-color="#0071ff"/><stop offset="0.259" stop-color="#0076ff"/><stop offset="0.267" stop-color="#007aff"/><stop offset="0.276" stop-color="#0080ff"/><stop offset="0.284" stop-color="#0085ff"/><stop offset="0.293" stop-color="#008aff"/><stop offset="0.302" stop-color="#008fff"/><stop offset="0.310" stop-color="#0095ff"/><stop offset="0.319" stop-color="#009aff"/><stop offset="0.328" stop-color="#009fff"/><stop offset="0.336" stop-color="#00a4ff"/><stop offset="0.345" stop-color="#00aaff"/><stop offset="0.353" stop-color="#00b2ff"/><stop offset="0.362" stop-color="#00bbff"/><stop offset="0.371" stop-color="#00c4ff"/><stop offset="0.379" stop-color="#00cdff"/><stop offset="0.388" stop-color="#00d5ff"/><stop offset="0.397" stop-color="#00ddff"/><stop offset="0.405" stop-color="#00e5ff"/><stop offset="0.414" stop-color="#00edff"/><stop offset="0.422" stop-color="#00f5ff"/><stop offset="0.431" stop-color="#00fffd"/><stop offset="0.440" stop-color="#00fff1"/><stop offset="0.448" stop-color="#00ffe5"/><stop offset="0.457" stop-color="#00ffd9"/><stop offset="0.466" stop-color="#00ffcd"/><stop offset="0.474" stop-color="#00ffc1"/><stop offset="0.483" stop-color="#00ffb6"/><stop offset="0.491" stop-color="#00ffab"/><stop offset="0.500" stop-color="#00ffa2"/><stop offset="0.509" stop-color="#00ff99"/><stop offset="0.517" stop-color="#00ff90"/><stop offset="0.526" stop-color="#00ff87"/><stop offset="0.534" stop-color="#00ff7c"/><stop offset="0.543" stop-color="#00ff6f"/><stop offset="0.552" stop-color="#00ff61"/><stop offset="0.560" stop-color="#00ff54"/><stop offset="0.569" stop-color="#00ff47"/><stop offset="0.578" stop-color="#00ff35"/><stop offset="0.586" stop-color="#00ff23"/><stop offset="0.595" stop-color="#00ff12"/><stop offset="0.603" stop-color="#00ff00"/><stop offset="0.612" stop-color="#11ff00"/><stop offset="0.621" stop-color="#21ff00"/><stop offset="0.629" stop-color="#30ff00"/><stop offset="0.638" stop-color="#40ff00"/><stop offset="0.647" stop-color="#4fff00"/><stop offset="0.655" stop-color="#61ff00"/><stop offset="0.664" stop-color="#73ff00"/><stop offset="0.672" stop-color="#84ff00"/><stop offset="0.681" stop-color="#96ff00"/><stop offset="0.690" stop-color="#a8ff00"/><stop offset="0.698" stop-color="#b9ff00"/><stop offset="0.707" stop-color="#caff00"/><stop offset="0.716" stop-color="#dbff00"/><stop offset="0.724" stop-color="#ecff00"/><stop offset="0.733" stop-color="#fcff00"/><stop offset="0.741" stop-color="#fff100"/><stop offset="0.750" stop-color="#ffdd00"/><stop offset="0.759" stop-color="#ffc900"/><stop offset="0.767" stop-color="#ffb600"/><stop offset="0.776" stop-color="#ffa500"/><stop offset="0.784" stop-color="#ff9400"/><stop offset="0.793" stop-color="#ff8300"/><stop offset="0.802" stop-color="#ff7900"/><stop offset="0.810" stop-color="#ff6f00"/><stop offset="0.819" stop-color="#ff6500"/><stop offset="0.828" stop-color="#ff5b00"/><stop offset="0.836" stop-color="#ff5400"/><stop offset="0.845" stop-color="#ff4d00"/><stop offset="0.853" stop-color="#ff4600"/><stop offset="0.862" stop-color="#ff4000"/><stop offset="0.871" stop-color="#ff3b00"/><stop offset="0.879" stop-color="#ff3700"/><stop offset="0.888" stop-color="#ff3400"/><stop offset="0.897" stop-color="#ff3100"/><stop offset="0.905" stop-color="#ff2d00"/><stop offset="0.914" stop-color="#ff2a00"/><stop offset="0.922" stop-color="#ff2800"/><stop offset="1.000" stop-color="#ff2800"/></linearGradient></defs>
<rect x="0" y="0" width="550" height="321" fill="#fff"/>
<rect x="120.50" y="6.30" width="12.20" height="25.50" fill="#0000ff"/>
<rect x="132.70" y="6.30" width="23.64" height="25.50" fill="#0040ff"/>
<rect x="156.34" y="6.30" width="23.64" height="25.50" fill="#0080ff"/>
<rect x="179.98" y="6.30" width="23.64" height="25.50" fill="#00bfff"/>
<rect x="203.62" y="6.30" width="23.64" height="25.50" fill="#00ffff"/>
<rect x="227.26" y="6.30" width="23.64" height="25.50" fill="#00ffbf"/>
<rect x="250.90" y="6.30" width="23.64" height="25.50" fill="#00ff80"/>
<rect x="274.54" y="6.30" width="23.64" height="25.50" fill="#00ff40"/>
<rect x="298.18" y="6.30" width="23.64" height="25.50" fill="#00ff00"/>
<rect x="321.82" y="6.30" width="23.64" height="25.50" fill="#40ff00"/>
<rect x="345.46" y="6.30" width="23.64" height="25.50" fill="#80ff00"/>
<rect x="369.10" y="6.30" width="23.64" height="25.50" fill="#bfff00"/>
<rect x="392.74" y="6.30" width="23.64" height="25.50" fill="#ffff00"/>
<rect x="416.38" y="6.30" width="23.64" height="25.50" fill="#ffbf00"/>
<rect x="440.02" y="6.30" width="23.64" height="25.50" fill="#ff8000"/>
<rect x="463.66" y="6.30" width="23.64" height="25.50" fill="#ff4000"/>
<rect x="487.30" y="6.30" width="12.50" height="25.50" fill="#ff0000"/>
<line x1="132.70" y1="6.30" x2="132.70" y2="31.80" stroke="#1a1a1a" stroke-width="1"/>
<line x1="156.34" y1="6.30" x2="156.34" y2="31.80" stroke="#1a1a1a" stroke-width="1"/>
<line x1="179.98" y1="6.30" x2="179.98" y2="31.80" stroke="#1a1a1a" stroke-width="1"/>
<line x1="203.62" y1="6.30" x2="203.62" y2="31.80" stroke="#1a1a1a" stroke-width="1"/>
<line x1="227.26" y1="6.30" x2="227.26" y2="31.80" stroke="#1a1a1a" stroke-width="1"/>
<line x1="250.90" y1="6.30" x2="250.90" y2="31.80" stroke="#1a1a1a" stroke-width="1"/>
<line x1="274.54" y1="6.30" x2="274.54" y2="31.80" stroke="#1a1a1a" stroke-width="1"/>
<line x1="298.18" y1="6.30" x2="298.18" y2="31.80" stroke="#1a1a1a" stroke-width="1"/>
<line x1="321.82" y1="6.30" x2="321.82" y2="31.80" stroke="#1a1a1a" stroke-width="1"/>
<line x1="345.46" y1="6.30" x2="345.46" y2="31.80" stroke="#1a1a1a" stroke-width="1"/>
<line x1="369.10" y1="6.30" x2="369.10" y2="31.80" stroke="#1a1a1a" stroke-width="1"/>
<line x1="392.74" y1="6.30" x2="392.74" y2="31.80" stroke="#1a1a1a" stroke-width="1"/>
<line x1="416.38" y1="6.30" x2="416.38" y2="31.80" stroke="#1a1a1a" stroke-width="1"/>
<line x1="440.02" y1="6.30" x2="440.02" y2="31.80" stroke="#1a1a1a" stroke-width="1"/>
<line x1="463.66" y1="6.30" x2="463.66" y2="31.80" stroke="#1a1a1a" stroke-width="1"/>
<line x1="487.30" y1="6.30" x2="487.30" y2="31.80" stroke="#1a1a1a" stroke-width="1"/>
<rect x="120.50" y="6.30" width="379.30" height="25.50" fill="none" stroke="#1a1a1a" stroke-width="0.8"/>
<text x="39.3" y="44.7" class="ser" font-size="12">Temperature(K):</text>
<text x="133.00" y="44.6" class="ser" font-size="12" text-anchor="middle">75</text>
<text x="156.80" y="44.6" class="ser" font-size="12" text-anchor="middle">90</text>
<text x="180.60" y="44.6" class="ser" font-size="12" text-anchor="middle">105</text>
<text x="204.40" y="44.6" class="ser" font-size="12" text-anchor="middle">120</text>
<text x="228.20" y="44.6" class="ser" font-size="12" text-anchor="middle">135</text>
<text x="252.00" y="44.6" class="ser" font-size="12" text-anchor="middle">150</text>
<text x="275.80" y="44.6" class="ser" font-size="12" text-anchor="middle">165</text>
<text x="299.60" y="44.6" class="ser" font-size="12" text-anchor="middle">180</text>
<text x="323.40" y="44.6" class="ser" font-size="12" text-anchor="middle">195</text>
<text x="347.20" y="44.6" class="ser" font-size="12" text-anchor="middle">210</text>
<text x="371.00" y="44.6" class="ser" font-size="12" text-anchor="middle">225</text>
<text x="394.80" y="44.6" class="ser" font-size="12" text-anchor="middle">240</text>
<text x="418.60" y="44.6" class="ser" font-size="12" text-anchor="middle">255</text>
<text x="442.40" y="44.6" class="ser" font-size="12" text-anchor="middle">270</text>
<text x="466.20" y="44.6" class="ser" font-size="12" text-anchor="middle">285</text>
<text x="490.00" y="44.6" class="ser" font-size="12" text-anchor="middle">300</text>
<rect x="68.00" y="61" width="193.00" height="16.5" fill="url(#g1)"/>
<line x1="68.50" y1="61" x2="68.50" y2="77.0" stroke="#000" stroke-opacity="0.55" stroke-width="1"/>
<line x1="68.00" y1="61.5" x2="72.00" y2="61.5" stroke="#000" stroke-opacity="0.6" stroke-width="1"/>
<line x1="68.00" y1="77.5" x2="261.00" y2="77.5" stroke="#111" stroke-width="1"/>
<line x1="72.99" y1="77.5" x2="72.99" y2="75.5" stroke="#222" stroke-width="0.6"/>
<line x1="79.39" y1="77.5" x2="79.39" y2="75.5" stroke="#222" stroke-width="0.6"/>
<line x1="85.80" y1="77.5" x2="85.80" y2="75.5" stroke="#222" stroke-width="0.6"/>
<line x1="92.20" y1="77.5" x2="92.20" y2="72.5" stroke="#111" stroke-width="1"/>
<line x1="98.60" y1="77.5" x2="98.60" y2="75.5" stroke="#222" stroke-width="0.6"/>
<line x1="105.01" y1="77.5" x2="105.01" y2="75.5" stroke="#222" stroke-width="0.6"/>
<line x1="111.41" y1="77.5" x2="111.41" y2="75.5" stroke="#222" stroke-width="0.6"/>
<line x1="117.82" y1="77.5" x2="117.82" y2="75.5" stroke="#222" stroke-width="0.6"/>
<line x1="124.22" y1="77.5" x2="124.22" y2="72.5" stroke="#111" stroke-width="1"/>
<line x1="130.62" y1="77.5" x2="130.62" y2="75.5" stroke="#222" stroke-width="0.6"/>
<line x1="137.03" y1="77.5" x2="137.03" y2="75.5" stroke="#222" stroke-width="0.6"/>
<line x1="143.43" y1="77.5" x2="143.43" y2="75.5" stroke="#222" stroke-width="0.6"/>
<line x1="149.84" y1="77.5" x2="149.84" y2="75.5" stroke="#222" stroke-width="0.6"/>
<line x1="156.24" y1="77.5" x2="156.24" y2="72.5" stroke="#111" stroke-width="1"/>
<line x1="162.64" y1="77.5" x2="162.64" y2="75.5" stroke="#222" stroke-width="0.6"/>
<line x1="169.05" y1="77.5" x2="169.05" y2="75.5" stroke="#222" stroke-width="0.6"/>
<line x1="175.45" y1="77.5" x2="175.45" y2="75.5" stroke="#222" stroke-width="0.6"/>
<line x1="181.86" y1="77.5" x2="181.86" y2="75.5" stroke="#222" stroke-width="0.6"/>
<line x1="188.26" y1="77.5" x2="188.26" y2="72.5" stroke="#111" stroke-width="1"/>
<line x1="194.66" y1="77.5" x2="194.66" y2="75.5" stroke="#222" stroke-width="0.6"/>
<line x1="201.07" y1="77.5" x2="201.07" y2="75.5" stroke="#222" stroke-width="0.6"/>
<line x1="207.47" y1="77.5" x2="207.47" y2="75.5" stroke="#222" stroke-width="0.6"/>
<line x1="213.88" y1="77.5" x2="213.88" y2="75.5" stroke="#222" stroke-width="0.6"/>
<line x1="220.28" y1="77.5" x2="220.28" y2="72.5" stroke="#111" stroke-width="1"/>
<line x1="226.68" y1="77.5" x2="226.68" y2="75.5" stroke="#222" stroke-width="0.6"/>
<line x1="233.09" y1="77.5" x2="233.09" y2="75.5" stroke="#222" stroke-width="0.6"/>
<line x1="239.49" y1="77.5" x2="239.49" y2="75.5" stroke="#222" stroke-width="0.6"/>
<line x1="245.90" y1="77.5" x2="245.90" y2="75.5" stroke="#222" stroke-width="0.6"/>
<line x1="252.30" y1="77.5" x2="252.30" y2="72.5" stroke="#111" stroke-width="1"/>
<line x1="258.70" y1="77.5" x2="258.70" y2="75.5" stroke="#222" stroke-width="0.6"/>
<text x="92.20" y="85.0" class="san" font-size="7" text-anchor="middle">0.2</text>
<text x="124.22" y="85.0" class="san" font-size="7" text-anchor="middle">0.21</text>
<text x="156.24" y="85.0" class="san" font-size="7" text-anchor="middle">0.22</text>
<text x="188.26" y="85.0" class="san" font-size="7" text-anchor="middle">0.23</text>
<text x="220.28" y="85.0" class="san" font-size="7" text-anchor="middle">0.24</text>
<text x="252.30" y="85.0" class="san" font-size="7" text-anchor="middle">0.25</text>
<text x="5.10" y="72.50" class="cjk" font-size="10">（</text>
<text x="15.80" y="72.10" class="ser" font-size="12">a)t= <tspan font-weight="bold">0.5<tspan stroke="#111" stroke-width="0.45" font-size="11">π</tspan></tspan></text>
<rect x="68.00" y="89" width="193.00" height="16.5" fill="url(#g2)"/>
<line x1="68.50" y1="89" x2="68.50" y2="105.0" stroke="#000" stroke-opacity="0.55" stroke-width="1"/>
<line x1="68.00" y1="89.5" x2="72.00" y2="89.5" stroke="#000" stroke-opacity="0.6" stroke-width="1"/>
<line x1="68.00" y1="105.5" x2="261.00" y2="105.5" stroke="#111" stroke-width="1"/>
<line x1="71.99" y1="105.5" x2="71.99" y2="103.5" stroke="#222" stroke-width="0.6"/>
<line x1="78.43" y1="105.5" x2="78.43" y2="103.5" stroke="#222" stroke-width="0.6"/>
<line x1="84.86" y1="105.5" x2="84.86" y2="103.5" stroke="#222" stroke-width="0.6"/>
<line x1="91.30" y1="105.5" x2="91.30" y2="100.5" stroke="#111" stroke-width="1"/>
<line x1="97.74" y1="105.5" x2="97.74" y2="103.5" stroke="#222" stroke-width="0.6"/>
<line x1="104.17" y1="105.5" x2="104.17" y2="103.5" stroke="#222" stroke-width="0.6"/>
<line x1="110.61" y1="105.5" x2="110.61" y2="103.5" stroke="#222" stroke-width="0.6"/>
<line x1="117.04" y1="105.5" x2="117.04" y2="103.5" stroke="#222" stroke-width="0.6"/>
<line x1="123.48" y1="105.5" x2="123.48" y2="100.5" stroke="#111" stroke-width="1"/>
<line x1="129.92" y1="105.5" x2="129.92" y2="103.5" stroke="#222" stroke-width="0.6"/>
<line x1="136.35" y1="105.5" x2="136.35" y2="103.5" stroke="#222" stroke-width="0.6"/>
<line x1="142.79" y1="105.5" x2="142.79" y2="103.5" stroke="#222" stroke-width="0.6"/>
<line x1="149.22" y1="105.5" x2="149.22" y2="103.5" stroke="#222" stroke-width="0.6"/>
<line x1="155.66" y1="105.5" x2="155.66" y2="100.5" stroke="#111" stroke-width="1"/>
<line x1="162.10" y1="105.5" x2="162.10" y2="103.5" stroke="#222" stroke-width="0.6"/>
<line x1="168.53" y1="105.5" x2="168.53" y2="103.5" stroke="#222" stroke-width="0.6"/>
<line x1="174.97" y1="105.5" x2="174.97" y2="103.5" stroke="#222" stroke-width="0.6"/>
<line x1="181.40" y1="105.5" x2="181.40" y2="103.5" stroke="#222" stroke-width="0.6"/>
<line x1="187.84" y1="105.5" x2="187.84" y2="100.5" stroke="#111" stroke-width="1"/>
<line x1="194.28" y1="105.5" x2="194.28" y2="103.5" stroke="#222" stroke-width="0.6"/>
<line x1="200.71" y1="105.5" x2="200.71" y2="103.5" stroke="#222" stroke-width="0.6"/>
<line x1="207.15" y1="105.5" x2="207.15" y2="103.5" stroke="#222" stroke-width="0.6"/>
<line x1="213.58" y1="105.5" x2="213.58" y2="103.5" stroke="#222" stroke-width="0.6"/>
<line x1="220.02" y1="105.5" x2="220.02" y2="100.5" stroke="#111" stroke-width="1"/>
<line x1="226.46" y1="105.5" x2="226.46" y2="103.5" stroke="#222" stroke-width="0.6"/>
<line x1="232.89" y1="105.5" x2="232.89" y2="103.5" stroke="#222" stroke-width="0.6"/>
<line x1="239.33" y1="105.5" x2="239.33" y2="103.5" stroke="#222" stroke-width="0.6"/>
<line x1="245.76" y1="105.5" x2="245.76" y2="103.5" stroke="#222" stroke-width="0.6"/>
<line x1="252.20" y1="105.5" x2="252.20" y2="100.5" stroke="#111" stroke-width="1"/>
<line x1="258.64" y1="105.5" x2="258.64" y2="103.5" stroke="#222" stroke-width="0.6"/>
<text x="91.30" y="113.0" class="san" font-size="7" text-anchor="middle">0.2</text>
<text x="123.48" y="113.0" class="san" font-size="7" text-anchor="middle">0.21</text>
<text x="155.66" y="113.0" class="san" font-size="7" text-anchor="middle">0.22</text>
<text x="187.84" y="113.0" class="san" font-size="7" text-anchor="middle">0.23</text>
<text x="220.02" y="113.0" class="san" font-size="7" text-anchor="middle">0.24</text>
<text x="252.20" y="113.0" class="san" font-size="7" text-anchor="middle">0.25</text>
<text x="5.10" y="100.50" class="cjk" font-size="10">（</text>
<text x="15.80" y="100.10" class="ser" font-size="12">b)t= <tspan font-weight="bold"><tspan stroke="#111" stroke-width="0.45" font-size="11">π</tspan></tspan></text>
<rect x="68.00" y="117" width="192.60" height="16.5" fill="url(#g3)"/>
<line x1="68.50" y1="117" x2="68.50" y2="133.0" stroke="#000" stroke-opacity="0.55" stroke-width="1"/>
<line x1="68.00" y1="117.5" x2="72.00" y2="117.5" stroke="#000" stroke-opacity="0.6" stroke-width="1"/>
<line x1="68.00" y1="133.5" x2="260.60" y2="133.5" stroke="#111" stroke-width="1"/>
<line x1="72.25" y1="133.5" x2="72.25" y2="131.5" stroke="#222" stroke-width="0.6"/>
<line x1="78.67" y1="133.5" x2="78.67" y2="131.5" stroke="#222" stroke-width="0.6"/>
<line x1="85.08" y1="133.5" x2="85.08" y2="131.5" stroke="#222" stroke-width="0.6"/>
<line x1="91.50" y1="133.5" x2="91.50" y2="128.5" stroke="#111" stroke-width="1"/>
<line x1="97.92" y1="133.5" x2="97.92" y2="131.5" stroke="#222" stroke-width="0.6"/>
<line x1="104.33" y1="133.5" x2="104.33" y2="131.5" stroke="#222" stroke-width="0.6"/>
<line x1="110.75" y1="133.5" x2="110.75" y2="131.5" stroke="#222" stroke-width="0.6"/>
<line x1="117.16" y1="133.5" x2="117.16" y2="131.5" stroke="#222" stroke-width="0.6"/>
<line x1="123.58" y1="133.5" x2="123.58" y2="128.5" stroke="#111" stroke-width="1"/>
<line x1="130.00" y1="133.5" x2="130.00" y2="131.5" stroke="#222" stroke-width="0.6"/>
<line x1="136.41" y1="133.5" x2="136.41" y2="131.5" stroke="#222" stroke-width="0.6"/>
<line x1="142.83" y1="133.5" x2="142.83" y2="131.5" stroke="#222" stroke-width="0.6"/>
<line x1="149.24" y1="133.5" x2="149.24" y2="131.5" stroke="#222" stroke-width="0.6"/>
<line x1="155.66" y1="133.5" x2="155.66" y2="128.5" stroke="#111" stroke-width="1"/>
<line x1="162.08" y1="133.5" x2="162.08" y2="131.5" stroke="#222" stroke-width="0.6"/>
<line x1="168.49" y1="133.5" x2="168.49" y2="131.5" stroke="#222" stroke-width="0.6"/>
<line x1="174.91" y1="133.5" x2="174.91" y2="131.5" stroke="#222" stroke-width="0.6"/>
<line x1="181.32" y1="133.5" x2="181.32" y2="131.5" stroke="#222" stroke-width="0.6"/>
<line x1="187.74" y1="133.5" x2="187.74" y2="128.5" stroke="#111" stroke-width="1"/>
<line x1="194.16" y1="133.5" x2="194.16" y2="131.5" stroke="#222" stroke-width="0.6"/>
<line x1="200.57" y1="133.5" x2="200.57" y2="131.5" stroke="#222" stroke-width="0.6"/>
<line x1="206.99" y1="133.5" x2="206.99" y2="131.5" stroke="#222" stroke-width="0.6"/>
<line x1="213.40" y1="133.5" x2="213.40" y2="131.5" stroke="#222" stroke-width="0.6"/>
<line x1="219.82" y1="133.5" x2="219.82" y2="128.5" stroke="#111" stroke-width="1"/>
<line x1="226.24" y1="133.5" x2="226.24" y2="131.5" stroke="#222" stroke-width="0.6"/>
<line x1="232.65" y1="133.5" x2="232.65" y2="131.5" stroke="#222" stroke-width="0.6"/>
<line x1="239.07" y1="133.5" x2="239.07" y2="131.5" stroke="#222" stroke-width="0.6"/>
<line x1="245.48" y1="133.5" x2="245.48" y2="131.5" stroke="#222" stroke-width="0.6"/>
<line x1="251.90" y1="133.5" x2="251.90" y2="128.5" stroke="#111" stroke-width="1"/>
<line x1="258.32" y1="133.5" x2="258.32" y2="131.5" stroke="#222" stroke-width="0.6"/>
<text x="91.50" y="141.0" class="san" font-size="7" text-anchor="middle">0.2</text>
<text x="123.58" y="141.0" class="san" font-size="7" text-anchor="middle">0.21</text>
<text x="155.66" y="141.0" class="san" font-size="7" text-anchor="middle">0.22</text>
<text x="187.74" y="141.0" class="san" font-size="7" text-anchor="middle">0.23</text>
<text x="219.82" y="141.0" class="san" font-size="7" text-anchor="middle">0.24</text>
<text x="251.90" y="141.0" class="san" font-size="7" text-anchor="middle">0.25</text>
<text x="5.10" y="128.50" class="cjk" font-size="10">（</text>
<text x="15.80" y="128.10" class="ser" font-size="12">c)t= <tspan font-weight="bold">1.5<tspan stroke="#111" stroke-width="0.45" font-size="11">π</tspan></tspan></text>
<rect x="68.00" y="145" width="192.80" height="16.5" fill="url(#g4)"/>
<line x1="68.50" y1="145" x2="68.50" y2="161.0" stroke="#000" stroke-opacity="0.55" stroke-width="1"/>
<line x1="68.00" y1="145.5" x2="72.00" y2="145.5" stroke="#000" stroke-opacity="0.6" stroke-width="1"/>
<line x1="68.00" y1="161.5" x2="260.80" y2="161.5" stroke="#111" stroke-width="1"/>
<line x1="72.22" y1="161.5" x2="72.22" y2="159.5" stroke="#222" stroke-width="0.6"/>
<line x1="78.64" y1="161.5" x2="78.64" y2="159.5" stroke="#222" stroke-width="0.6"/>
<line x1="85.07" y1="161.5" x2="85.07" y2="159.5" stroke="#222" stroke-width="0.6"/>
<line x1="91.50" y1="161.5" x2="91.50" y2="156.5" stroke="#111" stroke-width="1"/>
<line x1="97.93" y1="161.5" x2="97.93" y2="159.5" stroke="#222" stroke-width="0.6"/>
<line x1="104.36" y1="161.5" x2="104.36" y2="159.5" stroke="#222" stroke-width="0.6"/>
<line x1="110.78" y1="161.5" x2="110.78" y2="159.5" stroke="#222" stroke-width="0.6"/>
<line x1="117.21" y1="161.5" x2="117.21" y2="159.5" stroke="#222" stroke-width="0.6"/>
<line x1="123.64" y1="161.5" x2="123.64" y2="156.5" stroke="#111" stroke-width="1"/>
<line x1="130.07" y1="161.5" x2="130.07" y2="159.5" stroke="#222" stroke-width="0.6"/>
<line x1="136.50" y1="161.5" x2="136.50" y2="159.5" stroke="#222" stroke-width="0.6"/>
<line x1="142.92" y1="161.5" x2="142.92" y2="159.5" stroke="#222" stroke-width="0.6"/>
<line x1="149.35" y1="161.5" x2="149.35" y2="159.5" stroke="#222" stroke-width="0.6"/>
<line x1="155.78" y1="161.5" x2="155.78" y2="156.5" stroke="#111" stroke-width="1"/>
<line x1="162.21" y1="161.5" x2="162.21" y2="159.5" stroke="#222" stroke-width="0.6"/>
<line x1="168.64" y1="161.5" x2="168.64" y2="159.5" stroke="#222" stroke-width="0.6"/>
<line x1="175.06" y1="161.5" x2="175.06" y2="159.5" stroke="#222" stroke-width="0.6"/>
<line x1="181.49" y1="161.5" x2="181.49" y2="159.5" stroke="#222" stroke-width="0.6"/>
<line x1="187.92" y1="161.5" x2="187.92" y2="156.5" stroke="#111" stroke-width="1"/>
<line x1="194.35" y1="161.5" x2="194.35" y2="159.5" stroke="#222" stroke-width="0.6"/>
<line x1="200.78" y1="161.5" x2="200.78" y2="159.5" stroke="#222" stroke-width="0.6"/>
<line x1="207.20" y1="161.5" x2="207.20" y2="159.5" stroke="#222" stroke-width="0.6"/>
<line x1="213.63" y1="161.5" x2="213.63" y2="159.5" stroke="#222" stroke-width="0.6"/>
<line x1="220.06" y1="161.5" x2="220.06" y2="156.5" stroke="#111" stroke-width="1"/>
<line x1="226.49" y1="161.5" x2="226.49" y2="159.5" stroke="#222" stroke-width="0.6"/>
<line x1="232.92" y1="161.5" x2="232.92" y2="159.5" stroke="#222" stroke-width="0.6"/>
<line x1="239.34" y1="161.5" x2="239.34" y2="159.5" stroke="#222" stroke-width="0.6"/>
<line x1="245.77" y1="161.5" x2="245.77" y2="159.5" stroke="#222" stroke-width="0.6"/>
<line x1="252.20" y1="161.5" x2="252.20" y2="156.5" stroke="#111" stroke-width="1"/>
<line x1="258.63" y1="161.5" x2="258.63" y2="159.5" stroke="#222" stroke-width="0.6"/>
<text x="91.50" y="169.0" class="san" font-size="7" text-anchor="middle">0.2</text>
<text x="123.64" y="169.0" class="san" font-size="7" text-anchor="middle">0.21</text>
<text x="155.78" y="169.0" class="san" font-size="7" text-anchor="middle">0.22</text>
<text x="187.92" y="169.0" class="san" font-size="7" text-anchor="middle">0.23</text>
<text x="220.06" y="169.0" class="san" font-size="7" text-anchor="middle">0.24</text>
<text x="252.20" y="169.0" class="san" font-size="7" text-anchor="middle">0.25</text>
<text x="5.10" y="156.50" class="cjk" font-size="10">（</text>
<text x="15.80" y="156.10" class="ser" font-size="12">d)t= <tspan font-weight="bold">2<tspan stroke="#111" stroke-width="0.45" font-size="11">π</tspan></tspan></text>
<rect x="353.00" y="61" width="190.80" height="16.5" fill="url(#g5)"/>
<line x1="353.50" y1="61" x2="353.50" y2="77.0" stroke="#000" stroke-opacity="0.55" stroke-width="1"/>
<line x1="353.00" y1="61.5" x2="357.00" y2="61.5" stroke="#000" stroke-opacity="0.6" stroke-width="1"/>
<line x1="353.00" y1="77.5" x2="543.80" y2="77.5" stroke="#111" stroke-width="1"/>
<line x1="357.31" y1="77.5" x2="357.31" y2="75.5" stroke="#222" stroke-width="0.6"/>
<line x1="363.67" y1="77.5" x2="363.67" y2="75.5" stroke="#222" stroke-width="0.6"/>
<line x1="370.04" y1="77.5" x2="370.04" y2="75.5" stroke="#222" stroke-width="0.6"/>
<line x1="376.40" y1="77.5" x2="376.40" y2="72.5" stroke="#111" stroke-width="1"/>
<line x1="382.76" y1="77.5" x2="382.76" y2="75.5" stroke="#222" stroke-width="0.6"/>
<line x1="389.13" y1="77.5" x2="389.13" y2="75.5" stroke="#222" stroke-width="0.6"/>
<line x1="395.49" y1="77.5" x2="395.49" y2="75.5" stroke="#222" stroke-width="0.6"/>
<line x1="401.86" y1="77.5" x2="401.86" y2="75.5" stroke="#222" stroke-width="0.6"/>
<line x1="408.22" y1="77.5" x2="408.22" y2="72.5" stroke="#111" stroke-width="1"/>
<line x1="414.58" y1="77.5" x2="414.58" y2="75.5" stroke="#222" stroke-width="0.6"/>
<line x1="420.95" y1="77.5" x2="420.95" y2="75.5" stroke="#222" stroke-width="0.6"/>
<line x1="427.31" y1="77.5" x2="427.31" y2="75.5" stroke="#222" stroke-width="0.6"/>
<line x1="433.68" y1="77.5" x2="433.68" y2="75.5" stroke="#222" stroke-width="0.6"/>
<line x1="440.04" y1="77.5" x2="440.04" y2="72.5" stroke="#111" stroke-width="1"/>
<line x1="446.40" y1="77.5" x2="446.40" y2="75.5" stroke="#222" stroke-width="0.6"/>
<line x1="452.77" y1="77.5" x2="452.77" y2="75.5" stroke="#222" stroke-width="0.6"/>
<line x1="459.13" y1="77.5" x2="459.13" y2="75.5" stroke="#222" stroke-width="0.6"/>
<line x1="465.50" y1="77.5" x2="465.50" y2="75.5" stroke="#222" stroke-width="0.6"/>
<line x1="471.86" y1="77.5" x2="471.86" y2="72.5" stroke="#111" stroke-width="1"/>
<line x1="478.22" y1="77.5" x2="478.22" y2="75.5" stroke="#222" stroke-width="0.6"/>
<line x1="484.59" y1="77.5" x2="484.59" y2="75.5" stroke="#222" stroke-width="0.6"/>
<line x1="490.95" y1="77.5" x2="490.95" y2="75.5" stroke="#222" stroke-width="0.6"/>
<line x1="497.32" y1="77.5" x2="497.32" y2="75.5" stroke="#222" stroke-width="0.6"/>
<line x1="503.68" y1="77.5" x2="503.68" y2="72.5" stroke="#111" stroke-width="1"/>
<line x1="510.04" y1="77.5" x2="510.04" y2="75.5" stroke="#222" stroke-width="0.6"/>
<line x1="516.41" y1="77.5" x2="516.41" y2="75.5" stroke="#222" stroke-width="0.6"/>
<line x1="522.77" y1="77.5" x2="522.77" y2="75.5" stroke="#222" stroke-width="0.6"/>
<line x1="529.14" y1="77.5" x2="529.14" y2="75.5" stroke="#222" stroke-width="0.6"/>
<line x1="535.50" y1="77.5" x2="535.50" y2="72.5" stroke="#111" stroke-width="1"/>
<line x1="541.86" y1="77.5" x2="541.86" y2="75.5" stroke="#222" stroke-width="0.6"/>
<text x="376.40" y="85.0" class="san" font-size="7" text-anchor="middle">0.2</text>
<text x="408.22" y="85.0" class="san" font-size="7" text-anchor="middle">0.21</text>
<text x="440.04" y="85.0" class="san" font-size="7" text-anchor="middle">0.22</text>
<text x="471.86" y="85.0" class="san" font-size="7" text-anchor="middle">0.23</text>
<text x="503.68" y="85.0" class="san" font-size="7" text-anchor="middle">0.24</text>
<text x="535.50" y="85.0" class="san" font-size="7" text-anchor="middle">0.25</text>
<text x="288.90" y="73.10" class="cjk" font-size="10">（</text>
<text x="299.60" y="72.70" class="ser" font-size="12">a)t= <tspan font-weight="bold">0.5<tspan stroke="#111" stroke-width="0.45" font-size="11">π</tspan></tspan></text>
<rect x="353.00" y="89" width="192.00" height="16.5" fill="url(#g6)"/>
<line x1="353.50" y1="89" x2="353.50" y2="105.0" stroke="#000" stroke-opacity="0.55" stroke-width="1"/>
<line x1="353.00" y1="89.5" x2="357.00" y2="89.5" stroke="#000" stroke-opacity="0.6" stroke-width="1"/>
<line x1="353.00" y1="105.5" x2="545.00" y2="105.5" stroke="#111" stroke-width="1"/>
<line x1="357.19" y1="105.5" x2="357.19" y2="103.5" stroke="#222" stroke-width="0.6"/>
<line x1="363.59" y1="105.5" x2="363.59" y2="103.5" stroke="#222" stroke-width="0.6"/>
<line x1="370.00" y1="105.5" x2="370.00" y2="103.5" stroke="#222" stroke-width="0.6"/>
<line x1="376.40" y1="105.5" x2="376.40" y2="100.5" stroke="#111" stroke-width="1"/>
<line x1="382.80" y1="105.5" x2="382.80" y2="103.5" stroke="#222" stroke-width="0.6"/>
<line x1="389.21" y1="105.5" x2="389.21" y2="103.5" stroke="#222" stroke-width="0.6"/>
<line x1="395.61" y1="105.5" x2="395.61" y2="103.5" stroke="#222" stroke-width="0.6"/>
<line x1="402.02" y1="105.5" x2="402.02" y2="103.5" stroke="#222" stroke-width="0.6"/>
<line x1="408.42" y1="105.5" x2="408.42" y2="100.5" stroke="#111" stroke-width="1"/>
<line x1="414.82" y1="105.5" x2="414.82" y2="103.5" stroke="#222" stroke-width="0.6"/>
<line x1="421.23" y1="105.5" x2="421.23" y2="103.5" stroke="#222" stroke-width="0.6"/>
<line x1="427.63" y1="105.5" x2="427.63" y2="103.5" stroke="#222" stroke-width="0.6"/>
<line x1="434.04" y1="105.5" x2="434.04" y2="103.5" stroke="#222" stroke-width="0.6"/>
<line x1="440.44" y1="105.5" x2="440.44" y2="100.5" stroke="#111" stroke-width="1"/>
<line x1="446.84" y1="105.5" x2="446.84" y2="103.5" stroke="#222" stroke-width="0.6"/>
<line x1="453.25" y1="105.5" x2="453.25" y2="103.5" stroke="#222" stroke-width="0.6"/>
<line x1="459.65" y1="105.5" x2="459.65" y2="103.5" stroke="#222" stroke-width="0.6"/>
<line x1="466.06" y1="105.5" x2="466.06" y2="103.5" stroke="#222" stroke-width="0.6"/>
<line x1="472.46" y1="105.5" x2="472.46" y2="100.5" stroke="#111" stroke-width="1"/>
<line x1="478.86" y1="105.5" x2="478.86" y2="103.5" stroke="#222" stroke-width="0.6"/>
<line x1="485.27" y1="105.5" x2="485.27" y2="103.5" stroke="#222" stroke-width="0.6"/>
<line x1="491.67" y1="105.5" x2="491.67" y2="103.5" stroke="#222" stroke-width="0.6"/>
<line x1="498.08" y1="105.5" x2="498.08" y2="103.5" stroke="#222" stroke-width="0.6"/>
<line x1="504.48" y1="105.5" x2="504.48" y2="100.5" stroke="#111" stroke-width="1"/>
<line x1="510.88" y1="105.5" x2="510.88" y2="103.5" stroke="#222" stroke-width="0.6"/>
<line x1="517.29" y1="105.5" x2="517.29" y2="103.5" stroke="#222" stroke-width="0.6"/>
<line x1="523.69" y1="105.5" x2="523.69" y2="103.5" stroke="#222" stroke-width="0.6"/>
<line x1="530.10" y1="105.5" x2="530.10" y2="103.5" stroke="#222" stroke-width="0.6"/>
<line x1="536.50" y1="105.5" x2="536.50" y2="100.5" stroke="#111" stroke-width="1"/>
<line x1="542.90" y1="105.5" x2="542.90" y2="103.5" stroke="#222" stroke-width="0.6"/>
<text x="376.40" y="113.0" class="san" font-size="7" text-anchor="middle">0.2</text>
<text x="408.42" y="113.0" class="san" font-size="7" text-anchor="middle">0.21</text>
<text x="440.44" y="113.0" class="san" font-size="7" text-anchor="middle">0.22</text>
<text x="472.46" y="113.0" class="san" font-size="7" text-anchor="middle">0.23</text>
<text x="504.48" y="113.0" class="san" font-size="7" text-anchor="middle">0.24</text>
<text x="536.50" y="113.0" class="san" font-size="7" text-anchor="middle">0.25</text>
<text x="288.90" y="101.10" class="cjk" font-size="10">（</text>
<text x="299.60" y="100.70" class="ser" font-size="12">b)t= <tspan font-weight="bold"><tspan stroke="#111" stroke-width="0.45" font-size="11">π</tspan></tspan></text>
<rect x="353.00" y="117" width="193.00" height="16.5" fill="url(#g7)"/>
<line x1="353.50" y1="117" x2="353.50" y2="133.0" stroke="#000" stroke-opacity="0.55" stroke-width="1"/>
<line x1="353.00" y1="117.5" x2="357.00" y2="117.5" stroke="#000" stroke-opacity="0.6" stroke-width="1"/>
<line x1="353.00" y1="133.5" x2="546.00" y2="133.5" stroke="#111" stroke-width="1"/>
<line x1="357.06" y1="133.5" x2="357.06" y2="131.5" stroke="#222" stroke-width="0.6"/>
<line x1="363.50" y1="133.5" x2="363.50" y2="131.5" stroke="#222" stroke-width="0.6"/>
<line x1="369.95" y1="133.5" x2="369.95" y2="131.5" stroke="#222" stroke-width="0.6"/>
<line x1="376.40" y1="133.5" x2="376.40" y2="128.5" stroke="#111" stroke-width="1"/>
<line x1="382.85" y1="133.5" x2="382.85" y2="131.5" stroke="#222" stroke-width="0.6"/>
<line x1="389.30" y1="133.5" x2="389.30" y2="131.5" stroke="#222" stroke-width="0.6"/>
<line x1="395.74" y1="133.5" x2="395.74" y2="131.5" stroke="#222" stroke-width="0.6"/>
<line x1="402.19" y1="133.5" x2="402.19" y2="131.5" stroke="#222" stroke-width="0.6"/>
<line x1="408.64" y1="133.5" x2="408.64" y2="128.5" stroke="#111" stroke-width="1"/>
<line x1="415.09" y1="133.5" x2="415.09" y2="131.5" stroke="#222" stroke-width="0.6"/>
<line x1="421.54" y1="133.5" x2="421.54" y2="131.5" stroke="#222" stroke-width="0.6"/>
<line x1="427.98" y1="133.5" x2="427.98" y2="131.5" stroke="#222" stroke-width="0.6"/>
<line x1="434.43" y1="133.5" x2="434.43" y2="131.5" stroke="#222" stroke-width="0.6"/>
<line x1="440.88" y1="133.5" x2="440.88" y2="128.5" stroke="#111" stroke-width="1"/>
<line x1="447.33" y1="133.5" x2="447.33" y2="131.5" stroke="#222" stroke-width="0.6"/>
<line x1="453.78" y1="133.5" x2="453.78" y2="131.5" stroke="#222" stroke-width="0.6"/>
<line x1="460.22" y1="133.5" x2="460.22" y2="131.5" stroke="#222" stroke-width="0.6"/>
<line x1="466.67" y1="133.5" x2="466.67" y2="131.5" stroke="#222" stroke-width="0.6"/>
<line x1="473.12" y1="133.5" x2="473.12" y2="128.5" stroke="#111" stroke-width="1"/>
<line x1="479.57" y1="133.5" x2="479.57" y2="131.5" stroke="#222" stroke-width="0.6"/>
<line x1="486.02" y1="133.5" x2="486.02" y2="131.5" stroke="#222" stroke-width="0.6"/>
<line x1="492.46" y1="133.5" x2="492.46" y2="131.5" stroke="#222" stroke-width="0.6"/>
<line x1="498.91" y1="133.5" x2="498.91" y2="131.5" stroke="#222" stroke-width="0.6"/>
<line x1="505.36" y1="133.5" x2="505.36" y2="128.5" stroke="#111" stroke-width="1"/>
<line x1="511.81" y1="133.5" x2="511.81" y2="131.5" stroke="#222" stroke-width="0.6"/>
<line x1="518.26" y1="133.5" x2="518.26" y2="131.5" stroke="#222" stroke-width="0.6"/>
<line x1="524.70" y1="133.5" x2="524.70" y2="131.5" stroke="#222" stroke-width="0.6"/>
<line x1="531.15" y1="133.5" x2="531.15" y2="131.5" stroke="#222" stroke-width="0.6"/>
<line x1="537.60" y1="133.5" x2="537.60" y2="128.5" stroke="#111" stroke-width="1"/>
<line x1="544.05" y1="133.5" x2="544.05" y2="131.5" stroke="#222" stroke-width="0.6"/>
<text x="376.40" y="141.0" class="san" font-size="7" text-anchor="middle">0.2</text>
<text x="408.64" y="141.0" class="san" font-size="7" text-anchor="middle">0.21</text>
<text x="440.88" y="141.0" class="san" font-size="7" text-anchor="middle">0.22</text>
<text x="473.12" y="141.0" class="san" font-size="7" text-anchor="middle">0.23</text>
<text x="505.36" y="141.0" class="san" font-size="7" text-anchor="middle">0.24</text>
<text x="537.60" y="141.0" class="san" font-size="7" text-anchor="middle">0.25</text>
<text x="288.90" y="129.10" class="cjk" font-size="10">（</text>
<text x="299.60" y="128.70" class="ser" font-size="12">c)t= <tspan font-weight="bold">1.5<tspan stroke="#111" stroke-width="0.45" font-size="11">π</tspan></tspan></text>
<rect x="353.00" y="144" width="193.80" height="16.5" fill="url(#g8)"/>
<line x1="353.50" y1="144" x2="353.50" y2="160.0" stroke="#000" stroke-opacity="0.55" stroke-width="1"/>
<line x1="353.00" y1="144.5" x2="357.00" y2="144.5" stroke="#000" stroke-opacity="0.6" stroke-width="1"/>
<line x1="353.00" y1="160.5" x2="546.80" y2="160.5" stroke="#111" stroke-width="1"/>
<line x1="357.04" y1="160.5" x2="357.04" y2="158.5" stroke="#222" stroke-width="0.6"/>
<line x1="363.50" y1="160.5" x2="363.50" y2="158.5" stroke="#222" stroke-width="0.6"/>
<line x1="369.95" y1="160.5" x2="369.95" y2="158.5" stroke="#222" stroke-width="0.6"/>
<line x1="376.40" y1="160.5" x2="376.40" y2="155.5" stroke="#111" stroke-width="1"/>
<line x1="382.85" y1="160.5" x2="382.85" y2="158.5" stroke="#222" stroke-width="0.6"/>
<line x1="389.30" y1="160.5" x2="389.30" y2="158.5" stroke="#222" stroke-width="0.6"/>
<line x1="395.76" y1="160.5" x2="395.76" y2="158.5" stroke="#222" stroke-width="0.6"/>
<line x1="402.21" y1="160.5" x2="402.21" y2="158.5" stroke="#222" stroke-width="0.6"/>
<line x1="408.66" y1="160.5" x2="408.66" y2="155.5" stroke="#111" stroke-width="1"/>
<line x1="415.11" y1="160.5" x2="415.11" y2="158.5" stroke="#222" stroke-width="0.6"/>
<line x1="421.56" y1="160.5" x2="421.56" y2="158.5" stroke="#222" stroke-width="0.6"/>
<line x1="428.02" y1="160.5" x2="428.02" y2="158.5" stroke="#222" stroke-width="0.6"/>
<line x1="434.47" y1="160.5" x2="434.47" y2="158.5" stroke="#222" stroke-width="0.6"/>
<line x1="440.92" y1="160.5" x2="440.92" y2="155.5" stroke="#111" stroke-width="1"/>
<line x1="447.37" y1="160.5" x2="447.37" y2="158.5" stroke="#222" stroke-width="0.6"/>
<line x1="453.82" y1="160.5" x2="453.82" y2="158.5" stroke="#222" stroke-width="0.6"/>
<line x1="460.28" y1="160.5" x2="460.28" y2="158.5" stroke="#222" stroke-width="0.6"/>
<line x1="466.73" y1="160.5" x2="466.73" y2="158.5" stroke="#222" stroke-width="0.6"/>
<line x1="473.18" y1="160.5" x2="473.18" y2="155.5" stroke="#111" stroke-width="1"/>
<line x1="479.63" y1="160.5" x2="479.63" y2="158.5" stroke="#222" stroke-width="0.6"/>
<line x1="486.08" y1="160.5" x2="486.08" y2="158.5" stroke="#222" stroke-width="0.6"/>
<line x1="492.54" y1="160.5" x2="492.54" y2="158.5" stroke="#222" stroke-width="0.6"/>
<line x1="498.99" y1="160.5" x2="498.99" y2="158.5" stroke="#222" stroke-width="0.6"/>
<line x1="505.44" y1="160.5" x2="505.44" y2="155.5" stroke="#111" stroke-width="1"/>
<line x1="511.89" y1="160.5" x2="511.89" y2="158.5" stroke="#222" stroke-width="0.6"/>
<line x1="518.34" y1="160.5" x2="518.34" y2="158.5" stroke="#222" stroke-width="0.6"/>
<line x1="524.80" y1="160.5" x2="524.80" y2="158.5" stroke="#222" stroke-width="0.6"/>
<line x1="531.25" y1="160.5" x2="531.25" y2="158.5" stroke="#222" stroke-width="0.6"/>
<line x1="537.70" y1="160.5" x2="537.70" y2="155.5" stroke="#111" stroke-width="1"/>
<line x1="544.15" y1="160.5" x2="544.15" y2="158.5" stroke="#222" stroke-width="0.6"/>
<text x="376.40" y="168.0" class="san" font-size="7" text-anchor="middle">0.2</text>
<text x="408.66" y="168.0" class="san" font-size="7" text-anchor="middle">0.21</text>
<text x="440.92" y="168.0" class="san" font-size="7" text-anchor="middle">0.22</text>
<text x="473.18" y="168.0" class="san" font-size="7" text-anchor="middle">0.23</text>
<text x="505.44" y="168.0" class="san" font-size="7" text-anchor="middle">0.24</text>
<text x="537.70" y="168.0" class="san" font-size="7" text-anchor="middle">0.25</text>
<text x="288.90" y="157.10" class="cjk" font-size="10">（</text>
<text x="299.60" y="156.70" class="ser" font-size="12">d)t= <tspan font-weight="bold">2<tspan stroke="#111" stroke-width="0.45" font-size="11">π</tspan></tspan></text>
<rect x="68.00" y="192" width="192.30" height="16.5" fill="url(#g9)"/>
<line x1="68.50" y1="192" x2="68.50" y2="208.0" stroke="#000" stroke-opacity="0.55" stroke-width="1"/>
<line x1="68.00" y1="192.5" x2="72.00" y2="192.5" stroke="#000" stroke-opacity="0.6" stroke-width="1"/>
<line x1="68.00" y1="208.5" x2="260.30" y2="208.5" stroke="#111" stroke-width="1"/>
<line x1="73.52" y1="208.5" x2="73.52" y2="206.5" stroke="#222" stroke-width="0.6"/>
<line x1="79.94" y1="208.5" x2="79.94" y2="206.5" stroke="#222" stroke-width="0.6"/>
<line x1="86.37" y1="208.5" x2="86.37" y2="206.5" stroke="#222" stroke-width="0.6"/>
<line x1="92.80" y1="208.5" x2="92.80" y2="203.5" stroke="#111" stroke-width="1"/>
<line x1="99.23" y1="208.5" x2="99.23" y2="206.5" stroke="#222" stroke-width="0.6"/>
<line x1="105.66" y1="208.5" x2="105.66" y2="206.5" stroke="#222" stroke-width="0.6"/>
<line x1="112.08" y1="208.5" x2="112.08" y2="206.5" stroke="#222" stroke-width="0.6"/>
<line x1="118.51" y1="208.5" x2="118.51" y2="206.5" stroke="#222" stroke-width="0.6"/>
<line x1="124.94" y1="208.5" x2="124.94" y2="203.5" stroke="#111" stroke-width="1"/>
<line x1="131.37" y1="208.5" x2="131.37" y2="206.5" stroke="#222" stroke-width="0.6"/>
<line x1="137.80" y1="208.5" x2="137.80" y2="206.5" stroke="#222" stroke-width="0.6"/>
<line x1="144.22" y1="208.5" x2="144.22" y2="206.5" stroke="#222" stroke-width="0.6"/>
<line x1="150.65" y1="208.5" x2="150.65" y2="206.5" stroke="#222" stroke-width="0.6"/>
<line x1="157.08" y1="208.5" x2="157.08" y2="203.5" stroke="#111" stroke-width="1"/>
<line x1="163.51" y1="208.5" x2="163.51" y2="206.5" stroke="#222" stroke-width="0.6"/>
<line x1="169.94" y1="208.5" x2="169.94" y2="206.5" stroke="#222" stroke-width="0.6"/>
<line x1="176.36" y1="208.5" x2="176.36" y2="206.5" stroke="#222" stroke-width="0.6"/>
<line x1="182.79" y1="208.5" x2="182.79" y2="206.5" stroke="#222" stroke-width="0.6"/>
<line x1="189.22" y1="208.5" x2="189.22" y2="203.5" stroke="#111" stroke-width="1"/>
<line x1="195.65" y1="208.5" x2="195.65" y2="206.5" stroke="#222" stroke-width="0.6"/>
<line x1="202.08" y1="208.5" x2="202.08" y2="206.5" stroke="#222" stroke-width="0.6"/>
<line x1="208.50" y1="208.5" x2="208.50" y2="206.5" stroke="#222" stroke-width="0.6"/>
<line x1="214.93" y1="208.5" x2="214.93" y2="206.5" stroke="#222" stroke-width="0.6"/>
<line x1="221.36" y1="208.5" x2="221.36" y2="203.5" stroke="#111" stroke-width="1"/>
<line x1="227.79" y1="208.5" x2="227.79" y2="206.5" stroke="#222" stroke-width="0.6"/>
<line x1="234.22" y1="208.5" x2="234.22" y2="206.5" stroke="#222" stroke-width="0.6"/>
<line x1="240.64" y1="208.5" x2="240.64" y2="206.5" stroke="#222" stroke-width="0.6"/>
<line x1="247.07" y1="208.5" x2="247.07" y2="206.5" stroke="#222" stroke-width="0.6"/>
<line x1="253.50" y1="208.5" x2="253.50" y2="203.5" stroke="#111" stroke-width="1"/>
<text x="92.80" y="216.0" class="san" font-size="7" text-anchor="middle">0.2</text>
<text x="124.94" y="216.0" class="san" font-size="7" text-anchor="middle">0.21</text>
<text x="157.08" y="216.0" class="san" font-size="7" text-anchor="middle">0.22</text>
<text x="189.22" y="216.0" class="san" font-size="7" text-anchor="middle">0.23</text>
<text x="221.36" y="216.0" class="san" font-size="7" text-anchor="middle">0.24</text>
<text x="253.50" y="216.0" class="san" font-size="7" text-anchor="middle">0.25</text>
<text x="2.90" y="203.40" class="cjk" font-size="10">（</text>
<text x="13.60" y="203.00" class="ser" font-size="12">a)t= <tspan font-weight="bold">0.5<tspan stroke="#111" stroke-width="0.45" font-size="11">π</tspan></tspan></text>
<rect x="68.00" y="221" width="191.80" height="16.5" fill="url(#g10)"/>
<line x1="68.50" y1="221" x2="68.50" y2="237.0" stroke="#000" stroke-opacity="0.55" stroke-width="1"/>
<line x1="68.00" y1="221.5" x2="72.00" y2="221.5" stroke="#000" stroke-opacity="0.6" stroke-width="1"/>
<line x1="68.00" y1="237.5" x2="259.80" y2="237.5" stroke="#111" stroke-width="1"/>
<line x1="73.28" y1="237.5" x2="73.28" y2="235.5" stroke="#222" stroke-width="0.6"/>
<line x1="79.68" y1="237.5" x2="79.68" y2="235.5" stroke="#222" stroke-width="0.6"/>
<line x1="86.09" y1="237.5" x2="86.09" y2="235.5" stroke="#222" stroke-width="0.6"/>
<line x1="92.50" y1="237.5" x2="92.50" y2="232.5" stroke="#111" stroke-width="1"/>
<line x1="98.91" y1="237.5" x2="98.91" y2="235.5" stroke="#222" stroke-width="0.6"/>
<line x1="105.32" y1="237.5" x2="105.32" y2="235.5" stroke="#222" stroke-width="0.6"/>
<line x1="111.72" y1="237.5" x2="111.72" y2="235.5" stroke="#222" stroke-width="0.6"/>
<line x1="118.13" y1="237.5" x2="118.13" y2="235.5" stroke="#222" stroke-width="0.6"/>
<line x1="124.54" y1="237.5" x2="124.54" y2="232.5" stroke="#111" stroke-width="1"/>
<line x1="130.95" y1="237.5" x2="130.95" y2="235.5" stroke="#222" stroke-width="0.6"/>
<line x1="137.36" y1="237.5" x2="137.36" y2="235.5" stroke="#222" stroke-width="0.6"/>
<line x1="143.76" y1="237.5" x2="143.76" y2="235.5" stroke="#222" stroke-width="0.6"/>
<line x1="150.17" y1="237.5" x2="150.17" y2="235.5" stroke="#222" stroke-width="0.6"/>
<line x1="156.58" y1="237.5" x2="156.58" y2="232.5" stroke="#111" stroke-width="1"/>
<line x1="162.99" y1="237.5" x2="162.99" y2="235.5" stroke="#222" stroke-width="0.6"/>
<line x1="169.40" y1="237.5" x2="169.40" y2="235.5" stroke="#222" stroke-width="0.6"/>
<line x1="175.80" y1="237.5" x2="175.80" y2="235.5" stroke="#222" stroke-width="0.6"/>
<line x1="182.21" y1="237.5" x2="182.21" y2="235.5" stroke="#222" stroke-width="0.6"/>
<line x1="188.62" y1="237.5" x2="188.62" y2="232.5" stroke="#111" stroke-width="1"/>
<line x1="195.03" y1="237.5" x2="195.03" y2="235.5" stroke="#222" stroke-width="0.6"/>
<line x1="201.44" y1="237.5" x2="201.44" y2="235.5" stroke="#222" stroke-width="0.6"/>
<line x1="207.84" y1="237.5" x2="207.84" y2="235.5" stroke="#222" stroke-width="0.6"/>
<line x1="214.25" y1="237.5" x2="214.25" y2="235.5" stroke="#222" stroke-width="0.6"/>
<line x1="220.66" y1="237.5" x2="220.66" y2="232.5" stroke="#111" stroke-width="1"/>
<line x1="227.07" y1="237.5" x2="227.07" y2="235.5" stroke="#222" stroke-width="0.6"/>
<line x1="233.48" y1="237.5" x2="233.48" y2="235.5" stroke="#222" stroke-width="0.6"/>
<line x1="239.88" y1="237.5" x2="239.88" y2="235.5" stroke="#222" stroke-width="0.6"/>
<line x1="246.29" y1="237.5" x2="246.29" y2="235.5" stroke="#222" stroke-width="0.6"/>
<line x1="252.70" y1="237.5" x2="252.70" y2="232.5" stroke="#111" stroke-width="1"/>
<line x1="259.11" y1="237.5" x2="259.11" y2="235.5" stroke="#222" stroke-width="0.6"/>
<text x="92.50" y="245.0" class="san" font-size="7" text-anchor="middle">0.2</text>
<text x="124.54" y="245.0" class="san" font-size="7" text-anchor="middle">0.21</text>
<text x="156.58" y="245.0" class="san" font-size="7" text-anchor="middle">0.22</text>
<text x="188.62" y="245.0" class="san" font-size="7" text-anchor="middle">0.23</text>
<text x="220.66" y="245.0" class="san" font-size="7" text-anchor="middle">0.24</text>
<text x="252.70" y="245.0" class="san" font-size="7" text-anchor="middle">0.25</text>
<text x="2.90" y="231.30" class="cjk" font-size="10">（</text>
<text x="13.60" y="230.90" class="ser" font-size="12">b)t= <tspan font-weight="bold"><tspan stroke="#111" stroke-width="0.45" font-size="11">π</tspan></tspan></text>
<rect x="68.00" y="248" width="192.00" height="16.5" fill="url(#g11)"/>
<line x1="68.50" y1="248" x2="68.50" y2="264.0" stroke="#000" stroke-opacity="0.55" stroke-width="1"/>
<line x1="68.00" y1="248.5" x2="72.00" y2="248.5" stroke="#000" stroke-opacity="0.6" stroke-width="1"/>
<line x1="68.00" y1="264.5" x2="260.00" y2="264.5" stroke="#111" stroke-width="1"/>
<line x1="73.28" y1="264.5" x2="73.28" y2="262.5" stroke="#222" stroke-width="0.6"/>
<line x1="79.68" y1="264.5" x2="79.68" y2="262.5" stroke="#222" stroke-width="0.6"/>
<line x1="86.09" y1="264.5" x2="86.09" y2="262.5" stroke="#222" stroke-width="0.6"/>
<line x1="92.50" y1="264.5" x2="92.50" y2="259.5" stroke="#111" stroke-width="1"/>
<line x1="98.91" y1="264.5" x2="98.91" y2="262.5" stroke="#222" stroke-width="0.6"/>
<line x1="105.32" y1="264.5" x2="105.32" y2="262.5" stroke="#222" stroke-width="0.6"/>
<line x1="111.72" y1="264.5" x2="111.72" y2="262.5" stroke="#222" stroke-width="0.6"/>
<line x1="118.13" y1="264.5" x2="118.13" y2="262.5" stroke="#222" stroke-width="0.6"/>
<line x1="124.54" y1="264.5" x2="124.54" y2="259.5" stroke="#111" stroke-width="1"/>
<line x1="130.95" y1="264.5" x2="130.95" y2="262.5" stroke="#222" stroke-width="0.6"/>
<line x1="137.36" y1="264.5" x2="137.36" y2="262.5" stroke="#222" stroke-width="0.6"/>
<line x1="143.76" y1="264.5" x2="143.76" y2="262.5" stroke="#222" stroke-width="0.6"/>
<line x1="150.17" y1="264.5" x2="150.17" y2="262.5" stroke="#222" stroke-width="0.6"/>
<line x1="156.58" y1="264.5" x2="156.58" y2="259.5" stroke="#111" stroke-width="1"/>
<line x1="162.99" y1="264.5" x2="162.99" y2="262.5" stroke="#222" stroke-width="0.6"/>
<line x1="169.40" y1="264.5" x2="169.40" y2="262.5" stroke="#222" stroke-width="0.6"/>
<line x1="175.80" y1="264.5" x2="175.80" y2="262.5" stroke="#222" stroke-width="0.6"/>
<line x1="182.21" y1="264.5" x2="182.21" y2="262.5" stroke="#222" stroke-width="0.6"/>
<line x1="188.62" y1="264.5" x2="188.62" y2="259.5" stroke="#111" stroke-width="1"/>
<line x1="195.03" y1="264.5" x2="195.03" y2="262.5" stroke="#222" stroke-width="0.6"/>
<line x1="201.44" y1="264.5" x2="201.44" y2="262.5" stroke="#222" stroke-width="0.6"/>
<line x1="207.84" y1="264.5" x2="207.84" y2="262.5" stroke="#222" stroke-width="0.6"/>
<line x1="214.25" y1="264.5" x2="214.25" y2="262.5" stroke="#222" stroke-width="0.6"/>
<line x1="220.66" y1="264.5" x2="220.66" y2="259.5" stroke="#111" stroke-width="1"/>
<line x1="227.07" y1="264.5" x2="227.07" y2="262.5" stroke="#222" stroke-width="0.6"/>
<line x1="233.48" y1="264.5" x2="233.48" y2="262.5" stroke="#222" stroke-width="0.6"/>
<line x1="239.88" y1="264.5" x2="239.88" y2="262.5" stroke="#222" stroke-width="0.6"/>
<line x1="246.29" y1="264.5" x2="246.29" y2="262.5" stroke="#222" stroke-width="0.6"/>
<line x1="252.70" y1="264.5" x2="252.70" y2="259.5" stroke="#111" stroke-width="1"/>
<line x1="259.11" y1="264.5" x2="259.11" y2="262.5" stroke="#222" stroke-width="0.6"/>
<text x="92.50" y="272.0" class="san" font-size="7" text-anchor="middle">0.2</text>
<text x="124.54" y="272.0" class="san" font-size="7" text-anchor="middle">0.21</text>
<text x="156.58" y="272.0" class="san" font-size="7" text-anchor="middle">0.22</text>
<text x="188.62" y="272.0" class="san" font-size="7" text-anchor="middle">0.23</text>
<text x="220.66" y="272.0" class="san" font-size="7" text-anchor="middle">0.24</text>
<text x="252.70" y="272.0" class="san" font-size="7" text-anchor="middle">0.25</text>
<text x="2.90" y="259.30" class="cjk" font-size="10">（</text>
<text x="13.60" y="258.90" class="ser" font-size="12">c)t= <tspan font-weight="bold">1.5<tspan stroke="#111" stroke-width="0.45" font-size="11">π</tspan></tspan></text>
<rect x="68.00" y="276" width="192.80" height="16.5" fill="url(#g12)"/>
<line x1="68.50" y1="276" x2="68.50" y2="292.0" stroke="#000" stroke-opacity="0.55" stroke-width="1"/>
<line x1="68.00" y1="276.5" x2="72.00" y2="276.5" stroke="#000" stroke-opacity="0.6" stroke-width="1"/>
<line x1="68.00" y1="292.5" x2="260.80" y2="292.5" stroke="#111" stroke-width="1"/>
<line x1="73.12" y1="292.5" x2="73.12" y2="290.5" stroke="#222" stroke-width="0.6"/>
<line x1="79.58" y1="292.5" x2="79.58" y2="290.5" stroke="#222" stroke-width="0.6"/>
<line x1="86.04" y1="292.5" x2="86.04" y2="290.5" stroke="#222" stroke-width="0.6"/>
<line x1="92.50" y1="292.5" x2="92.50" y2="287.5" stroke="#111" stroke-width="1"/>
<line x1="98.96" y1="292.5" x2="98.96" y2="290.5" stroke="#222" stroke-width="0.6"/>
<line x1="105.42" y1="292.5" x2="105.42" y2="290.5" stroke="#222" stroke-width="0.6"/>
<line x1="111.88" y1="292.5" x2="111.88" y2="290.5" stroke="#222" stroke-width="0.6"/>
<line x1="118.34" y1="292.5" x2="118.34" y2="290.5" stroke="#222" stroke-width="0.6"/>
<line x1="124.80" y1="292.5" x2="124.80" y2="287.5" stroke="#111" stroke-width="1"/>
<line x1="131.26" y1="292.5" x2="131.26" y2="290.5" stroke="#222" stroke-width="0.6"/>
<line x1="137.72" y1="292.5" x2="137.72" y2="290.5" stroke="#222" stroke-width="0.6"/>
<line x1="144.18" y1="292.5" x2="144.18" y2="290.5" stroke="#222" stroke-width="0.6"/>
<line x1="150.64" y1="292.5" x2="150.64" y2="290.5" stroke="#222" stroke-width="0.6"/>
<line x1="157.10" y1="292.5" x2="157.10" y2="287.5" stroke="#111" stroke-width="1"/>
<line x1="163.56" y1="292.5" x2="163.56" y2="290.5" stroke="#222" stroke-width="0.6"/>
<line x1="170.02" y1="292.5" x2="170.02" y2="290.5" stroke="#222" stroke-width="0.6"/>
<line x1="176.48" y1="292.5" x2="176.48" y2="290.5" stroke="#222" stroke-width="0.6"/>
<line x1="182.94" y1="292.5" x2="182.94" y2="290.5" stroke="#222" stroke-width="0.6"/>
<line x1="189.40" y1="292.5" x2="189.40" y2="287.5" stroke="#111" stroke-width="1"/>
<line x1="195.86" y1="292.5" x2="195.86" y2="290.5" stroke="#222" stroke-width="0.6"/>
<line x1="202.32" y1="292.5" x2="202.32" y2="290.5" stroke="#222" stroke-width="0.6"/>
<line x1="208.78" y1="292.5" x2="208.78" y2="290.5" stroke="#222" stroke-width="0.6"/>
<line x1="215.24" y1="292.5" x2="215.24" y2="290.5" stroke="#222" stroke-width="0.6"/>
<line x1="221.70" y1="292.5" x2="221.70" y2="287.5" stroke="#111" stroke-width="1"/>
<line x1="228.16" y1="292.5" x2="228.16" y2="290.5" stroke="#222" stroke-width="0.6"/>
<line x1="234.62" y1="292.5" x2="234.62" y2="290.5" stroke="#222" stroke-width="0.6"/>
<line x1="241.08" y1="292.5" x2="241.08" y2="290.5" stroke="#222" stroke-width="0.6"/>
<line x1="247.54" y1="292.5" x2="247.54" y2="290.5" stroke="#222" stroke-width="0.6"/>
<line x1="254.00" y1="292.5" x2="254.00" y2="287.5" stroke="#111" stroke-width="1"/>
<text x="92.50" y="300.0" class="san" font-size="7" text-anchor="middle">0.2</text>
<text x="124.80" y="300.0" class="san" font-size="7" text-anchor="middle">0.21</text>
<text x="157.10" y="300.0" class="san" font-size="7" text-anchor="middle">0.22</text>
<text x="189.40" y="300.0" class="san" font-size="7" text-anchor="middle">0.23</text>
<text x="221.70" y="300.0" class="san" font-size="7" text-anchor="middle">0.24</text>
<text x="254.00" y="300.0" class="san" font-size="7" text-anchor="middle">0.25</text>
<text x="2.90" y="287.30" class="cjk" font-size="10">（</text>
<text x="13.60" y="286.90" class="ser" font-size="12">d)t= <tspan font-weight="bold">2<tspan stroke="#111" stroke-width="0.45" font-size="11">π</tspan></tspan></text>
<rect x="353.90" y="192" width="192.20" height="16.5" fill="url(#g13)"/>
<line x1="354.40" y1="192" x2="354.40" y2="208.0" stroke="#000" stroke-opacity="0.55" stroke-width="1"/>
<line x1="353.90" y1="192.5" x2="357.90" y2="192.5" stroke="#000" stroke-opacity="0.6" stroke-width="1"/>
<line x1="353.90" y1="208.5" x2="546.10" y2="208.5" stroke="#111" stroke-width="1"/>
<line x1="359.74" y1="208.5" x2="359.74" y2="206.5" stroke="#222" stroke-width="0.6"/>
<line x1="366.16" y1="208.5" x2="366.16" y2="206.5" stroke="#222" stroke-width="0.6"/>
<line x1="372.58" y1="208.5" x2="372.58" y2="206.5" stroke="#222" stroke-width="0.6"/>
<line x1="379.00" y1="208.5" x2="379.00" y2="203.5" stroke="#111" stroke-width="1"/>
<line x1="385.42" y1="208.5" x2="385.42" y2="206.5" stroke="#222" stroke-width="0.6"/>
<line x1="391.84" y1="208.5" x2="391.84" y2="206.5" stroke="#222" stroke-width="0.6"/>
<line x1="398.26" y1="208.5" x2="398.26" y2="206.5" stroke="#222" stroke-width="0.6"/>
<line x1="404.68" y1="208.5" x2="404.68" y2="206.5" stroke="#222" stroke-width="0.6"/>
<line x1="411.10" y1="208.5" x2="411.10" y2="203.5" stroke="#111" stroke-width="1"/>
<line x1="417.52" y1="208.5" x2="417.52" y2="206.5" stroke="#222" stroke-width="0.6"/>
<line x1="423.94" y1="208.5" x2="423.94" y2="206.5" stroke="#222" stroke-width="0.6"/>
<line x1="430.36" y1="208.5" x2="430.36" y2="206.5" stroke="#222" stroke-width="0.6"/>
<line x1="436.78" y1="208.5" x2="436.78" y2="206.5" stroke="#222" stroke-width="0.6"/>
<line x1="443.20" y1="208.5" x2="443.20" y2="203.5" stroke="#111" stroke-width="1"/>
<line x1="449.62" y1="208.5" x2="449.62" y2="206.5" stroke="#222" stroke-width="0.6"/>
<line x1="456.04" y1="208.5" x2="456.04" y2="206.5" stroke="#222" stroke-width="0.6"/>
<line x1="462.46" y1="208.5" x2="462.46" y2="206.5" stroke="#222" stroke-width="0.6"/>
<line x1="468.88" y1="208.5" x2="468.88" y2="206.5" stroke="#222" stroke-width="0.6"/>
<line x1="475.30" y1="208.5" x2="475.30" y2="203.5" stroke="#111" stroke-width="1"/>
<line x1="481.72" y1="208.5" x2="481.72" y2="206.5" stroke="#222" stroke-width="0.6"/>
<line x1="488.14" y1="208.5" x2="488.14" y2="206.5" stroke="#222" stroke-width="0.6"/>
<line x1="494.56" y1="208.5" x2="494.56" y2="206.5" stroke="#222" stroke-width="0.6"/>
<line x1="500.98" y1="208.5" x2="500.98" y2="206.5" stroke="#222" stroke-width="0.6"/>
<line x1="507.40" y1="208.5" x2="507.40" y2="203.5" stroke="#111" stroke-width="1"/>
<line x1="513.82" y1="208.5" x2="513.82" y2="206.5" stroke="#222" stroke-width="0.6"/>
<line x1="520.24" y1="208.5" x2="520.24" y2="206.5" stroke="#222" stroke-width="0.6"/>
<line x1="526.66" y1="208.5" x2="526.66" y2="206.5" stroke="#222" stroke-width="0.6"/>
<line x1="533.08" y1="208.5" x2="533.08" y2="206.5" stroke="#222" stroke-width="0.6"/>
<line x1="539.50" y1="208.5" x2="539.50" y2="203.5" stroke="#111" stroke-width="1"/>
<text x="379.00" y="216.0" class="san" font-size="7" text-anchor="middle">0.2</text>
<text x="411.10" y="216.0" class="san" font-size="7" text-anchor="middle">0.21</text>
<text x="443.20" y="216.0" class="san" font-size="7" text-anchor="middle">0.22</text>
<text x="475.30" y="216.0" class="san" font-size="7" text-anchor="middle">0.23</text>
<text x="507.40" y="216.0" class="san" font-size="7" text-anchor="middle">0.24</text>
<text x="539.50" y="216.0" class="san" font-size="7" text-anchor="middle">0.25</text>
<text x="288.90" y="205.50" class="cjk" font-size="10">（</text>
<text x="299.60" y="205.10" class="ser" font-size="12">a)t= <tspan font-weight="bold">0.5<tspan stroke="#111" stroke-width="0.45" font-size="11">π</tspan></tspan></text>
<rect x="353.90" y="220" width="192.00" height="16.5" fill="url(#g14)"/>
<line x1="354.40" y1="220" x2="354.40" y2="236.0" stroke="#000" stroke-opacity="0.55" stroke-width="1"/>
<line x1="353.90" y1="220.5" x2="357.90" y2="220.5" stroke="#000" stroke-opacity="0.6" stroke-width="1"/>
<line x1="353.90" y1="236.5" x2="545.90" y2="236.5" stroke="#111" stroke-width="1"/>
<line x1="359.22" y1="236.5" x2="359.22" y2="234.5" stroke="#222" stroke-width="0.6"/>
<line x1="365.64" y1="236.5" x2="365.64" y2="234.5" stroke="#222" stroke-width="0.6"/>
<line x1="372.07" y1="236.5" x2="372.07" y2="234.5" stroke="#222" stroke-width="0.6"/>
<line x1="378.50" y1="236.5" x2="378.50" y2="231.5" stroke="#111" stroke-width="1"/>
<line x1="384.93" y1="236.5" x2="384.93" y2="234.5" stroke="#222" stroke-width="0.6"/>
<line x1="391.36" y1="236.5" x2="391.36" y2="234.5" stroke="#222" stroke-width="0.6"/>
<line x1="397.78" y1="236.5" x2="397.78" y2="234.5" stroke="#222" stroke-width="0.6"/>
<line x1="404.21" y1="236.5" x2="404.21" y2="234.5" stroke="#222" stroke-width="0.6"/>
<line x1="410.64" y1="236.5" x2="410.64" y2="231.5" stroke="#111" stroke-width="1"/>
<line x1="417.07" y1="236.5" x2="417.07" y2="234.5" stroke="#222" stroke-width="0.6"/>
<line x1="423.50" y1="236.5" x2="423.50" y2="234.5" stroke="#222" stroke-width="0.6"/>
<line x1="429.92" y1="236.5" x2="429.92" y2="234.5" stroke="#222" stroke-width="0.6"/>
<line x1="436.35" y1="236.5" x2="436.35" y2="234.5" stroke="#222" stroke-width="0.6"/>
<line x1="442.78" y1="236.5" x2="442.78" y2="231.5" stroke="#111" stroke-width="1"/>
<line x1="449.21" y1="236.5" x2="449.21" y2="234.5" stroke="#222" stroke-width="0.6"/>
<line x1="455.64" y1="236.5" x2="455.64" y2="234.5" stroke="#222" stroke-width="0.6"/>
<line x1="462.06" y1="236.5" x2="462.06" y2="234.5" stroke="#222" stroke-width="0.6"/>
<line x1="468.49" y1="236.5" x2="468.49" y2="234.5" stroke="#222" stroke-width="0.6"/>
<line x1="474.92" y1="236.5" x2="474.92" y2="231.5" stroke="#111" stroke-width="1"/>
<line x1="481.35" y1="236.5" x2="481.35" y2="234.5" stroke="#222" stroke-width="0.6"/>
<line x1="487.78" y1="236.5" x2="487.78" y2="234.5" stroke="#222" stroke-width="0.6"/>
<line x1="494.20" y1="236.5" x2="494.20" y2="234.5" stroke="#222" stroke-width="0.6"/>
<line x1="500.63" y1="236.5" x2="500.63" y2="234.5" stroke="#222" stroke-width="0.6"/>
<line x1="507.06" y1="236.5" x2="507.06" y2="231.5" stroke="#111" stroke-width="1"/>
<line x1="513.49" y1="236.5" x2="513.49" y2="234.5" stroke="#222" stroke-width="0.6"/>
<line x1="519.92" y1="236.5" x2="519.92" y2="234.5" stroke="#222" stroke-width="0.6"/>
<line x1="526.34" y1="236.5" x2="526.34" y2="234.5" stroke="#222" stroke-width="0.6"/>
<line x1="532.77" y1="236.5" x2="532.77" y2="234.5" stroke="#222" stroke-width="0.6"/>
<line x1="539.20" y1="236.5" x2="539.20" y2="231.5" stroke="#111" stroke-width="1"/>
<text x="378.50" y="244.0" class="san" font-size="7" text-anchor="middle">0.2</text>
<text x="410.64" y="244.0" class="san" font-size="7" text-anchor="middle">0.21</text>
<text x="442.78" y="244.0" class="san" font-size="7" text-anchor="middle">0.22</text>
<text x="474.92" y="244.0" class="san" font-size="7" text-anchor="middle">0.23</text>
<text x="507.06" y="244.0" class="san" font-size="7" text-anchor="middle">0.24</text>
<text x="539.20" y="244.0" class="san" font-size="7" text-anchor="middle">0.25</text>
<text x="288.90" y="233.50" class="cjk" font-size="10">（</text>
<text x="299.60" y="233.10" class="ser" font-size="12">b)t= <tspan font-weight="bold"><tspan stroke="#111" stroke-width="0.45" font-size="11">π</tspan></tspan></text>
<rect x="353.90" y="248" width="192.20" height="16.5" fill="url(#g15)"/>
<line x1="354.40" y1="248" x2="354.40" y2="264.0" stroke="#000" stroke-opacity="0.55" stroke-width="1"/>
<line x1="353.90" y1="248.5" x2="357.90" y2="248.5" stroke="#000" stroke-opacity="0.6" stroke-width="1"/>
<line x1="353.90" y1="264.5" x2="546.10" y2="264.5" stroke="#111" stroke-width="1"/>
<line x1="359.20" y1="264.5" x2="359.20" y2="262.5" stroke="#222" stroke-width="0.6"/>
<line x1="365.64" y1="264.5" x2="365.64" y2="262.5" stroke="#222" stroke-width="0.6"/>
<line x1="372.07" y1="264.5" x2="372.07" y2="262.5" stroke="#222" stroke-width="0.6"/>
<line x1="378.50" y1="264.5" x2="378.50" y2="259.5" stroke="#111" stroke-width="1"/>
<line x1="384.93" y1="264.5" x2="384.93" y2="262.5" stroke="#222" stroke-width="0.6"/>
<line x1="391.36" y1="264.5" x2="391.36" y2="262.5" stroke="#222" stroke-width="0.6"/>
<line x1="397.80" y1="264.5" x2="397.80" y2="262.5" stroke="#222" stroke-width="0.6"/>
<line x1="404.23" y1="264.5" x2="404.23" y2="262.5" stroke="#222" stroke-width="0.6"/>
<line x1="410.66" y1="264.5" x2="410.66" y2="259.5" stroke="#111" stroke-width="1"/>
<line x1="417.09" y1="264.5" x2="417.09" y2="262.5" stroke="#222" stroke-width="0.6"/>
<line x1="423.52" y1="264.5" x2="423.52" y2="262.5" stroke="#222" stroke-width="0.6"/>
<line x1="429.96" y1="264.5" x2="429.96" y2="262.5" stroke="#222" stroke-width="0.6"/>
<line x1="436.39" y1="264.5" x2="436.39" y2="262.5" stroke="#222" stroke-width="0.6"/>
<line x1="442.82" y1="264.5" x2="442.82" y2="259.5" stroke="#111" stroke-width="1"/>
<line x1="449.25" y1="264.5" x2="449.25" y2="262.5" stroke="#222" stroke-width="0.6"/>
<line x1="455.68" y1="264.5" x2="455.68" y2="262.5" stroke="#222" stroke-width="0.6"/>
<line x1="462.12" y1="264.5" x2="462.12" y2="262.5" stroke="#222" stroke-width="0.6"/>
<line x1="468.55" y1="264.5" x2="468.55" y2="262.5" stroke="#222" stroke-width="0.6"/>
<line x1="474.98" y1="264.5" x2="474.98" y2="259.5" stroke="#111" stroke-width="1"/>
<line x1="481.41" y1="264.5" x2="481.41" y2="262.5" stroke="#222" stroke-width="0.6"/>
<line x1="487.84" y1="264.5" x2="487.84" y2="262.5" stroke="#222" stroke-width="0.6"/>
<line x1="494.28" y1="264.5" x2="494.28" y2="262.5" stroke="#222" stroke-width="0.6"/>
<line x1="500.71" y1="264.5" x2="500.71" y2="262.5" stroke="#222" stroke-width="0.6"/>
<line x1="507.14" y1="264.5" x2="507.14" y2="259.5" stroke="#111" stroke-width="1"/>
<line x1="513.57" y1="264.5" x2="513.57" y2="262.5" stroke="#222" stroke-width="0.6"/>
<line x1="520.00" y1="264.5" x2="520.00" y2="262.5" stroke="#222" stroke-width="0.6"/>
<line x1="526.44" y1="264.5" x2="526.44" y2="262.5" stroke="#222" stroke-width="0.6"/>
<line x1="532.87" y1="264.5" x2="532.87" y2="262.5" stroke="#222" stroke-width="0.6"/>
<line x1="539.30" y1="264.5" x2="539.30" y2="259.5" stroke="#111" stroke-width="1"/>
<text x="378.50" y="272.0" class="san" font-size="7" text-anchor="middle">0.2</text>
<text x="410.66" y="272.0" class="san" font-size="7" text-anchor="middle">0.21</text>
<text x="442.82" y="272.0" class="san" font-size="7" text-anchor="middle">0.22</text>
<text x="474.98" y="272.0" class="san" font-size="7" text-anchor="middle">0.23</text>
<text x="507.14" y="272.0" class="san" font-size="7" text-anchor="middle">0.24</text>
<text x="539.30" y="272.0" class="san" font-size="7" text-anchor="middle">0.25</text>
<text x="288.90" y="261.50" class="cjk" font-size="10">（</text>
<text x="299.60" y="261.10" class="ser" font-size="12">c)t= <tspan font-weight="bold">1.5<tspan stroke="#111" stroke-width="0.45" font-size="11">π</tspan></tspan></text>
<rect x="353.90" y="276" width="192.00" height="16.5" fill="url(#g16)"/>
<line x1="354.40" y1="276" x2="354.40" y2="292.0" stroke="#000" stroke-opacity="0.55" stroke-width="1"/>
<line x1="353.90" y1="276.5" x2="357.90" y2="276.5" stroke="#000" stroke-opacity="0.6" stroke-width="1"/>
<line x1="353.90" y1="292.5" x2="545.90" y2="292.5" stroke="#111" stroke-width="1"/>
<line x1="358.88" y1="292.5" x2="358.88" y2="290.5" stroke="#222" stroke-width="0.6"/>
<line x1="365.32" y1="292.5" x2="365.32" y2="290.5" stroke="#222" stroke-width="0.6"/>
<line x1="371.76" y1="292.5" x2="371.76" y2="290.5" stroke="#222" stroke-width="0.6"/>
<line x1="378.20" y1="292.5" x2="378.20" y2="287.5" stroke="#111" stroke-width="1"/>
<line x1="384.64" y1="292.5" x2="384.64" y2="290.5" stroke="#222" stroke-width="0.6"/>
<line x1="391.08" y1="292.5" x2="391.08" y2="290.5" stroke="#222" stroke-width="0.6"/>
<line x1="397.52" y1="292.5" x2="397.52" y2="290.5" stroke="#222" stroke-width="0.6"/>
<line x1="403.96" y1="292.5" x2="403.96" y2="290.5" stroke="#222" stroke-width="0.6"/>
<line x1="410.40" y1="292.5" x2="410.40" y2="287.5" stroke="#111" stroke-width="1"/>
<line x1="416.84" y1="292.5" x2="416.84" y2="290.5" stroke="#222" stroke-width="0.6"/>
<line x1="423.28" y1="292.5" x2="423.28" y2="290.5" stroke="#222" stroke-width="0.6"/>
<line x1="429.72" y1="292.5" x2="429.72" y2="290.5" stroke="#222" stroke-width="0.6"/>
<line x1="436.16" y1="292.5" x2="436.16" y2="290.5" stroke="#222" stroke-width="0.6"/>
<line x1="442.60" y1="292.5" x2="442.60" y2="287.5" stroke="#111" stroke-width="1"/>
<line x1="449.04" y1="292.5" x2="449.04" y2="290.5" stroke="#222" stroke-width="0.6"/>
<line x1="455.48" y1="292.5" x2="455.48" y2="290.5" stroke="#222" stroke-width="0.6"/>
<line x1="461.92" y1="292.5" x2="461.92" y2="290.5" stroke="#222" stroke-width="0.6"/>
<line x1="468.36" y1="292.5" x2="468.36" y2="290.5" stroke="#222" stroke-width="0.6"/>
<line x1="474.80" y1="292.5" x2="474.80" y2="287.5" stroke="#111" stroke-width="1"/>
<line x1="481.24" y1="292.5" x2="481.24" y2="290.5" stroke="#222" stroke-width="0.6"/>
<line x1="487.68" y1="292.5" x2="487.68" y2="290.5" stroke="#222" stroke-width="0.6"/>
<line x1="494.12" y1="292.5" x2="494.12" y2="290.5" stroke="#222" stroke-width="0.6"/>
<line x1="500.56" y1="292.5" x2="500.56" y2="290.5" stroke="#222" stroke-width="0.6"/>
<line x1="507.00" y1="292.5" x2="507.00" y2="287.5" stroke="#111" stroke-width="1"/>
<line x1="513.44" y1="292.5" x2="513.44" y2="290.5" stroke="#222" stroke-width="0.6"/>
<line x1="519.88" y1="292.5" x2="519.88" y2="290.5" stroke="#222" stroke-width="0.6"/>
<line x1="526.32" y1="292.5" x2="526.32" y2="290.5" stroke="#222" stroke-width="0.6"/>
<line x1="532.76" y1="292.5" x2="532.76" y2="290.5" stroke="#222" stroke-width="0.6"/>
<line x1="539.20" y1="292.5" x2="539.20" y2="287.5" stroke="#111" stroke-width="1"/>
<text x="378.20" y="300.0" class="san" font-size="7" text-anchor="middle">0.2</text>
<text x="410.40" y="300.0" class="san" font-size="7" text-anchor="middle">0.21</text>
<text x="442.60" y="300.0" class="san" font-size="7" text-anchor="middle">0.22</text>
<text x="474.80" y="300.0" class="san" font-size="7" text-anchor="middle">0.23</text>
<text x="507.00" y="300.0" class="san" font-size="7" text-anchor="middle">0.24</text>
<text x="539.20" y="300.0" class="san" font-size="7" text-anchor="middle">0.25</text>
<text x="288.90" y="289.50" class="cjk" font-size="10">（</text>
<text x="299.60" y="289.10" class="ser" font-size="12">d)t= <tspan font-weight="bold">2<tspan stroke="#111" stroke-width="0.45" font-size="11">π</tspan></tspan></text>
<text x="143.3" y="184.9" class="ser" font-size="12">Model 1</text>
<text x="431.7" y="183.2" class="ser" font-size="12">Model 2</text>
<text x="142.9" y="318.6" class="ser" font-size="12">Model 3</text>
<text x="431.7" y="316.8" class="ser" font-size="12">Original</text>
</svg>
</body></html>
